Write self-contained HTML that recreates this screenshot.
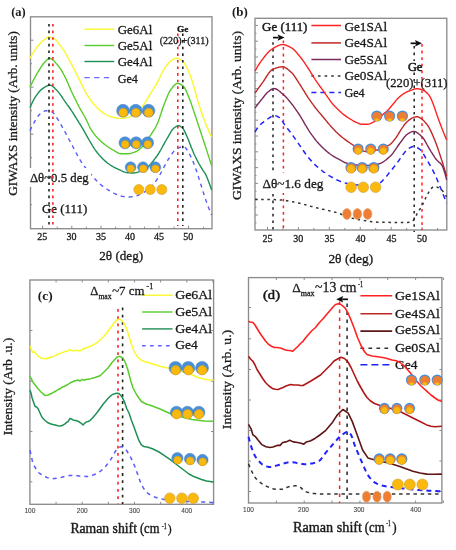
<!DOCTYPE html>
<html><head><meta charset="utf-8"><style>
html,body{margin:0;padding:0;background:#fff;}
svg{display:block;}
text{font-family:"Liberation Serif", serif;stroke:#1a1a1a;stroke-width:0.3px;}
</style></head><body>
<svg width="456" height="550" viewBox="0 0 456 550">
<defs><filter id="bl" x="0" y="0" width="100%" height="100%"><feGaussianBlur stdDeviation="0.35"/></filter></defs>
<rect width="456" height="550" fill="#fff"/>
<g filter="url(#bl)">
<rect width="456" height="550" fill="#fff"/>
<text x="11.2" y="16.3" font-size="13.5" text-anchor="start" textLength="14.5" lengthAdjust="spacingAndGlyphs" font-weight="bold" fill="#1a1a1a" style="stroke-width:0">(a)</text>
<rect x="30.5" y="16.8" width="181.5" height="211.89999999999998" fill="none" stroke="#8c8c8c" stroke-width="1.35"/>
<line x1="30.5" y1="40.2" x2="33.5" y2="40.2" stroke="#8c8c8c" stroke-width="1"/>
<line x1="30.5" y1="63.7" x2="32.0" y2="63.7" stroke="#8c8c8c" stroke-width="1"/>
<line x1="30.5" y1="87.2" x2="33.5" y2="87.2" stroke="#8c8c8c" stroke-width="1"/>
<line x1="30.5" y1="110.7" x2="32.0" y2="110.7" stroke="#8c8c8c" stroke-width="1"/>
<line x1="30.5" y1="134.2" x2="33.5" y2="134.2" stroke="#8c8c8c" stroke-width="1"/>
<line x1="30.5" y1="157.7" x2="32.0" y2="157.7" stroke="#8c8c8c" stroke-width="1"/>
<line x1="30.5" y1="181.2" x2="33.5" y2="181.2" stroke="#8c8c8c" stroke-width="1"/>
<line x1="30.5" y1="204.7" x2="32.0" y2="204.7" stroke="#8c8c8c" stroke-width="1"/>
<line x1="42.6" y1="228.7" x2="42.6" y2="225.7" stroke="#8c8c8c" stroke-width="1"/>
<line x1="57.2" y1="228.7" x2="57.2" y2="226.7" stroke="#8c8c8c" stroke-width="1"/>
<line x1="71.8" y1="228.7" x2="71.8" y2="225.7" stroke="#8c8c8c" stroke-width="1"/>
<line x1="86.4" y1="228.7" x2="86.4" y2="226.7" stroke="#8c8c8c" stroke-width="1"/>
<line x1="101" y1="228.7" x2="101" y2="225.7" stroke="#8c8c8c" stroke-width="1"/>
<line x1="115.6" y1="228.7" x2="115.6" y2="226.7" stroke="#8c8c8c" stroke-width="1"/>
<line x1="130" y1="228.7" x2="130" y2="225.7" stroke="#8c8c8c" stroke-width="1"/>
<line x1="144.5" y1="228.7" x2="144.5" y2="226.7" stroke="#8c8c8c" stroke-width="1"/>
<line x1="159" y1="228.7" x2="159" y2="225.7" stroke="#8c8c8c" stroke-width="1"/>
<line x1="174" y1="228.7" x2="174" y2="226.7" stroke="#8c8c8c" stroke-width="1"/>
<line x1="188.5" y1="228.7" x2="188.5" y2="225.7" stroke="#8c8c8c" stroke-width="1"/>
<line x1="203.5" y1="228.7" x2="203.5" y2="226.7" stroke="#8c8c8c" stroke-width="1"/>
<text x="42.3" y="239.6" font-size="10" text-anchor="middle" fill="#1a1a1a" >25</text>
<text x="71.5" y="239.6" font-size="10" text-anchor="middle" fill="#1a1a1a" >30</text>
<text x="101" y="239.6" font-size="10" text-anchor="middle" fill="#1a1a1a" >35</text>
<text x="129.9" y="239.6" font-size="10" text-anchor="middle" fill="#1a1a1a" >40</text>
<text x="158.9" y="239.6" font-size="10" text-anchor="middle" fill="#1a1a1a" >45</text>
<text x="188.3" y="239.6" font-size="10" text-anchor="middle" fill="#1a1a1a" >50</text>
<text x="121.2" y="260.4" font-size="13" text-anchor="middle" textLength="44" lengthAdjust="spacingAndGlyphs" fill="#1a1a1a" >2θ (deg)</text>
<text transform="translate(16.5,113.5) rotate(-90)" x="0" y="0" font-size="13" text-anchor="middle" textLength="164.7" lengthAdjust="spacingAndGlyphs" fill="#1a1a1a">GIWAXS intensity (Arb. units)</text>
<line x1="84.4" y1="29.2" x2="114.2" y2="29.2" stroke="#f8f82c" stroke-width="1.4"/>
<line x1="84.4" y1="45.5" x2="114.2" y2="45.5" stroke="#58cc2a" stroke-width="1.4"/>
<line x1="84.4" y1="61.5" x2="114.2" y2="61.5" stroke="#1f8f55" stroke-width="1.4"/>
<line x1="84.4" y1="77.6" x2="109.5" y2="77.6" stroke="#6a6aff" stroke-width="1.4" stroke-dasharray="5.3 4.4"/>
<text x="117.7" y="33.9" font-size="13.3" text-anchor="start" textLength="34.6" lengthAdjust="spacingAndGlyphs" fill="#1a1a1a" >Ge6Al</text>
<text x="117.7" y="50.1" font-size="13.3" text-anchor="start" textLength="34.6" lengthAdjust="spacingAndGlyphs" fill="#1a1a1a" >Ge5Al</text>
<text x="117.7" y="66.2" font-size="13.3" text-anchor="start" textLength="34.6" lengthAdjust="spacingAndGlyphs" fill="#1a1a1a" >Ge4Al</text>
<text x="117.7" y="82.5" font-size="13.3" text-anchor="start" textLength="20.2" lengthAdjust="spacingAndGlyphs" fill="#1a1a1a" >Ge4</text>
<path d="M30.0,58.2 L30.7,56.9 L31.4,55.7 L32.1,54.5 L32.8,53.4 L33.5,52.2 L34.2,51.2 L34.9,50.1 L35.6,49.1 L36.3,48.1 L37.0,47.2 L37.7,46.3 L38.4,45.5 L39.1,44.7 L39.8,43.9 L40.5,43.2 L41.2,42.4 L41.9,41.8 L42.6,41.1 L43.3,40.5 L44.0,40.0 L44.7,39.4 L45.4,38.9 L46.1,38.3 L46.8,37.8 L47.5,37.4 L48.2,37.1 L48.9,37.0 L49.6,37.0 L50.3,37.1 L51.0,37.3 L51.7,37.5 L52.4,37.8 L53.1,38.1 L53.8,38.4 L54.5,38.8 L55.2,39.1 L55.9,39.7 L56.6,40.5 L57.3,41.4 L58.0,42.5 L58.7,43.5 L59.4,44.5 L60.1,45.5 L60.9,46.4 L61.6,47.3 L62.3,48.3 L63.0,49.3 L63.7,50.3 L64.4,51.3 L65.1,52.5 L65.8,53.7 L66.5,55.0 L67.2,56.3 L67.9,57.6 L68.6,58.9 L69.3,60.1 L70.0,61.4 L70.7,62.7 L71.4,64.0 L72.1,65.3 L72.8,66.6 L73.5,68.0 L74.2,69.4 L74.9,70.7 L75.6,72.1 L76.3,73.5 L77.0,74.9 L77.7,76.3 L78.4,77.7 L79.1,79.1 L79.8,80.5 L80.5,81.9 L81.2,83.4 L81.9,84.9 L82.6,86.4 L83.3,87.8 L84.0,89.3 L84.7,90.6 L85.4,91.9 L86.1,93.2 L86.8,94.3 L87.5,95.5 L88.2,96.5 L88.9,97.6 L89.6,98.6 L90.3,99.6 L91.0,100.5 L91.7,101.5 L92.4,102.3 L93.1,103.2 L93.8,104.0 L94.5,104.8 L95.2,105.6 L95.9,106.4 L96.6,107.2 L97.3,107.9 L98.0,108.6 L98.7,109.3 L99.4,109.9 L100.1,110.5 L100.8,111.1 L101.5,111.6 L102.2,112.1 L102.9,112.6 L103.6,113.1 L104.3,113.6 L105.0,114.0 L105.7,114.5 L106.4,114.9 L107.1,115.2 L107.8,115.6 L108.5,115.9 L109.2,116.2 L109.9,116.4 L110.6,116.6 L111.3,116.8 L112.0,117.0 L112.7,117.2 L113.4,117.3 L114.1,117.5 L114.8,117.7 L115.5,117.8 L116.2,118.0 L116.9,118.1 L117.6,118.2 L118.3,118.3 L119.0,118.3 L119.7,118.4 L120.4,118.4 L121.2,118.4 L121.9,118.4 L122.6,118.3 L123.3,118.2 L124.0,118.2 L124.7,118.1 L125.4,117.9 L126.1,117.8 L126.8,117.6 L127.5,117.5 L128.2,117.3 L128.9,117.1 L129.6,116.9 L130.3,116.7 L131.0,116.4 L131.7,116.1 L132.4,115.7 L133.1,115.2 L133.8,114.7 L134.5,114.2 L135.2,113.7 L135.9,113.1 L136.6,112.5 L137.3,111.9 L138.0,111.2 L138.7,110.5 L139.4,109.8 L140.1,109.0 L140.8,108.2 L141.5,107.3 L142.2,106.4 L142.9,105.5 L143.6,104.6 L144.3,103.6 L145.0,102.6 L145.7,101.5 L146.4,100.3 L147.1,99.2 L147.8,98.0 L148.5,96.8 L149.2,95.6 L149.9,94.4 L150.6,93.3 L151.3,92.2 L152.0,91.1 L152.7,90.0 L153.4,88.9 L154.1,87.8 L154.8,86.7 L155.5,85.6 L156.2,84.4 L156.9,83.2 L157.6,82.0 L158.3,80.6 L159.0,79.2 L159.7,77.7 L160.4,76.2 L161.1,74.7 L161.8,73.2 L162.5,71.8 L163.2,70.5 L163.9,69.4 L164.6,68.3 L165.3,67.3 L166.0,66.3 L166.7,65.3 L167.4,64.4 L168.1,63.5 L168.8,62.7 L169.5,62.0 L170.2,61.4 L170.9,60.9 L171.6,60.4 L172.3,60.0 L173.0,59.5 L173.7,59.1 L174.4,58.8 L175.1,58.5 L175.8,58.3 L176.5,58.2 L177.2,58.2 L177.9,58.4 L178.6,58.6 L179.3,59.0 L180.0,59.4 L180.7,60.0 L181.5,60.5 L182.2,61.2 L182.9,61.9 L183.6,62.5 L184.3,63.3 L185.0,64.2 L185.7,65.3 L186.4,66.5 L187.1,68.0 L187.8,69.5 L188.5,71.2 L189.2,72.9 L189.9,74.7 L190.6,76.6 L191.3,78.4 L192.0,80.4 L192.7,82.6 L193.4,85.0 L194.1,87.5 L194.8,90.0 L195.5,92.6 L196.2,95.1 L196.9,97.6 L197.6,99.9 L198.3,102.3 L199.0,104.6 L199.7,106.9 L200.4,109.1 L201.1,111.2 L201.8,113.3 L202.5,115.3 L203.2,117.2 L203.9,119.1 L204.6,121.0 L205.3,122.7 L206.0,124.5 L206.7,126.2 L207.4,127.8 L208.1,129.5 L208.8,131.1 L209.5,132.6 L210.2,134.1 L210.9,135.6 L211.6,137.0" fill="none" stroke="#f8f82c" stroke-width="1.4" stroke-linejoin="round" stroke-linecap="butt"/>
<path d="M30.0,87.0 L30.7,85.5 L31.4,84.1 L32.1,82.7 L32.8,81.3 L33.5,80.0 L34.2,78.7 L34.9,77.4 L35.6,76.1 L36.3,74.9 L37.0,73.7 L37.7,72.5 L38.4,71.3 L39.1,70.1 L39.8,69.0 L40.5,67.8 L41.2,66.7 L41.9,65.6 L42.6,64.7 L43.3,63.8 L44.0,63.0 L44.7,62.2 L45.4,61.4 L46.1,60.7 L46.8,60.0 L47.5,59.4 L48.2,58.9 L48.9,58.5 L49.6,58.4 L50.3,58.5 L51.0,58.7 L51.7,59.1 L52.4,59.6 L53.1,60.1 L53.8,60.8 L54.5,61.5 L55.2,62.3 L55.9,63.1 L56.6,63.9 L57.3,64.6 L58.0,65.5 L58.7,66.4 L59.4,67.4 L60.1,68.4 L60.9,69.5 L61.6,70.7 L62.3,71.9 L63.0,73.2 L63.7,74.5 L64.4,75.7 L65.1,77.1 L65.8,78.5 L66.5,80.0 L67.2,81.6 L67.9,83.2 L68.6,84.8 L69.3,86.5 L70.0,88.1 L70.7,89.7 L71.4,91.3 L72.1,92.8 L72.8,94.2 L73.5,95.7 L74.2,97.1 L74.9,98.5 L75.6,99.9 L76.3,101.3 L77.0,102.7 L77.7,104.1 L78.4,105.4 L79.1,106.8 L79.8,108.1 L80.5,109.3 L81.2,110.6 L81.9,111.8 L82.6,113.0 L83.3,114.2 L84.0,115.5 L84.7,116.7 L85.4,118.0 L86.1,119.3 L86.8,120.7 L87.5,122.2 L88.2,123.7 L88.9,125.3 L89.6,126.8 L90.3,128.1 L91.0,129.3 L91.7,130.4 L92.4,131.5 L93.1,132.5 L93.8,133.4 L94.5,134.4 L95.2,135.2 L95.9,136.1 L96.6,136.9 L97.3,137.7 L98.0,138.4 L98.7,139.1 L99.4,139.8 L100.1,140.5 L100.8,141.2 L101.5,141.8 L102.2,142.4 L102.9,143.0 L103.6,143.6 L104.3,144.1 L105.0,144.7 L105.7,145.2 L106.4,145.7 L107.1,146.2 L107.8,146.7 L108.5,147.2 L109.2,147.7 L109.9,148.2 L110.6,148.6 L111.3,149.0 L112.0,149.5 L112.7,149.9 L113.4,150.2 L114.1,150.6 L114.8,151.1 L115.5,151.5 L116.2,151.9 L116.9,152.3 L117.6,152.7 L118.3,153.0 L119.0,153.3 L119.7,153.6 L120.4,153.7 L121.2,153.8 L121.9,153.8 L122.6,153.8 L123.3,153.8 L124.0,153.8 L124.7,153.8 L125.4,153.8 L126.1,153.8 L126.8,153.7 L127.5,153.7 L128.2,153.7 L128.9,153.7 L129.6,153.6 L130.3,153.5 L131.0,153.3 L131.7,153.1 L132.4,152.9 L133.1,152.7 L133.8,152.5 L134.5,152.2 L135.2,151.9 L135.9,151.6 L136.6,151.3 L137.3,150.8 L138.0,150.4 L138.7,149.9 L139.4,149.3 L140.1,148.7 L140.8,148.1 L141.5,147.5 L142.2,146.8 L142.9,146.1 L143.6,145.3 L144.3,144.4 L145.0,143.5 L145.7,142.5 L146.4,141.5 L147.1,140.5 L147.8,139.4 L148.5,138.3 L149.2,137.2 L149.9,136.2 L150.6,135.1 L151.3,134.1 L152.0,133.0 L152.7,131.9 L153.4,130.8 L154.1,129.7 L154.8,128.5 L155.5,127.3 L156.2,126.0 L156.9,124.6 L157.6,123.1 L158.3,121.4 L159.0,119.5 L159.7,117.4 L160.4,115.3 L161.1,113.1 L161.8,111.0 L162.5,108.8 L163.2,106.8 L163.9,104.9 L164.6,103.2 L165.3,101.4 L166.0,99.6 L166.7,97.9 L167.4,96.2 L168.1,94.5 L168.8,93.0 L169.5,91.6 L170.2,90.5 L170.9,89.5 L171.6,88.6 L172.3,87.7 L173.0,86.8 L173.7,86.0 L174.4,85.2 L175.1,84.6 L175.8,84.0 L176.5,83.7 L177.2,83.4 L177.9,83.4 L178.6,83.5 L179.3,83.7 L180.0,84.0 L180.7,84.4 L181.5,84.9 L182.2,85.4 L182.9,85.9 L183.6,86.5 L184.3,87.4 L185.0,88.5 L185.7,89.9 L186.4,91.4 L187.1,93.0 L187.8,94.7 L188.5,96.4 L189.2,98.2 L189.9,99.9 L190.6,101.7 L191.3,103.8 L192.0,105.9 L192.7,108.0 L193.4,110.1 L194.1,112.2 L194.8,114.2 L195.5,116.3 L196.2,118.4 L196.9,120.5 L197.6,122.7 L198.3,124.8 L199.0,126.9 L199.7,129.0 L200.4,131.2 L201.1,133.3 L201.8,135.4 L202.5,137.6 L203.2,139.7 L203.9,141.8 L204.6,144.0 L205.3,146.1 L206.0,148.3 L206.7,150.4 L207.4,152.6 L208.1,154.7 L208.8,156.9 L209.5,159.1 L210.2,161.2 L210.9,163.4 L211.6,165.6" fill="none" stroke="#58cc2a" stroke-width="1.4" stroke-linejoin="round" stroke-linecap="butt"/>
<path d="M30.0,107.6 L30.7,106.0 L31.4,104.5 L32.1,103.0 L32.8,101.5 L33.5,100.2 L34.2,98.9 L34.9,97.7 L35.6,96.6 L36.3,95.6 L37.0,94.6 L37.7,93.6 L38.4,92.7 L39.1,91.8 L39.8,91.0 L40.5,90.2 L41.2,89.6 L41.9,89.1 L42.6,88.6 L43.3,88.1 L44.0,87.6 L44.7,87.2 L45.4,86.7 L46.1,86.3 L46.8,86.0 L47.5,85.7 L48.2,85.5 L48.9,85.3 L49.6,85.2 L50.3,85.2 L51.0,85.4 L51.7,85.7 L52.4,86.1 L53.1,86.7 L53.8,87.3 L54.5,87.9 L55.2,88.7 L55.9,89.4 L56.6,90.1 L57.3,90.8 L58.0,91.6 L58.7,92.4 L59.4,93.4 L60.1,94.3 L60.9,95.4 L61.6,96.4 L62.3,97.5 L63.0,98.6 L63.7,99.6 L64.4,100.7 L65.1,101.6 L65.8,102.6 L66.5,103.6 L67.2,104.6 L67.9,105.5 L68.6,106.5 L69.3,107.5 L70.0,108.5 L70.7,109.5 L71.4,110.6 L72.1,111.6 L72.8,112.7 L73.5,113.8 L74.2,114.9 L74.9,116.0 L75.6,117.1 L76.3,118.2 L77.0,119.4 L77.7,120.5 L78.4,121.6 L79.1,122.8 L79.8,123.9 L80.5,125.0 L81.2,126.2 L81.9,127.3 L82.6,128.5 L83.3,129.6 L84.0,130.8 L84.7,132.1 L85.4,133.3 L86.1,134.6 L86.8,135.9 L87.5,137.1 L88.2,138.3 L88.9,139.5 L89.6,140.8 L90.3,142.0 L91.0,143.2 L91.7,144.4 L92.4,145.6 L93.1,146.7 L93.8,147.8 L94.5,148.9 L95.2,149.9 L95.9,150.8 L96.6,151.8 L97.3,152.7 L98.0,153.5 L98.7,154.4 L99.4,155.2 L100.1,156.0 L100.8,156.8 L101.5,157.5 L102.2,158.2 L102.9,158.9 L103.6,159.6 L104.3,160.2 L105.0,160.9 L105.7,161.5 L106.4,162.1 L107.1,162.7 L107.8,163.3 L108.5,163.8 L109.2,164.3 L109.9,164.8 L110.6,165.3 L111.3,165.7 L112.0,166.1 L112.7,166.5 L113.4,166.9 L114.1,167.3 L114.8,167.6 L115.5,168.0 L116.2,168.3 L116.9,168.6 L117.6,168.9 L118.3,169.3 L119.0,169.6 L119.7,169.9 L120.4,170.2 L121.2,170.6 L121.9,170.9 L122.6,171.3 L123.3,171.6 L124.0,171.9 L124.7,172.2 L125.4,172.4 L126.1,172.5 L126.8,172.6 L127.5,172.7 L128.2,172.7 L128.9,172.8 L129.6,172.9 L130.3,172.9 L131.0,173.0 L131.7,173.0 L132.4,173.0 L133.1,173.0 L133.8,173.0 L134.5,172.9 L135.2,172.8 L135.9,172.6 L136.6,172.5 L137.3,172.3 L138.0,172.1 L138.7,171.8 L139.4,171.6 L140.1,171.3 L140.8,171.1 L141.5,170.8 L142.2,170.5 L142.9,170.2 L143.6,169.8 L144.3,169.4 L145.0,169.0 L145.7,168.5 L146.4,168.0 L147.1,167.5 L147.8,166.9 L148.5,166.4 L149.2,165.7 L149.9,165.0 L150.6,164.2 L151.3,163.3 L152.0,162.5 L152.7,161.6 L153.4,160.7 L154.1,159.8 L154.8,158.9 L155.5,158.0 L156.2,157.0 L156.9,156.1 L157.6,155.0 L158.3,154.0 L159.0,152.9 L159.7,151.7 L160.4,150.5 L161.1,149.3 L161.8,148.0 L162.5,146.7 L163.2,145.4 L163.9,144.2 L164.6,142.9 L165.3,141.7 L166.0,140.5 L166.7,139.2 L167.4,138.0 L168.1,136.8 L168.8,135.6 L169.5,134.4 L170.2,133.2 L170.9,131.9 L171.6,130.8 L172.3,129.7 L173.0,129.0 L173.7,128.3 L174.4,127.7 L175.1,127.2 L175.8,126.7 L176.5,126.3 L177.2,125.9 L177.9,125.7 L178.6,125.7 L179.3,125.8 L180.0,126.1 L180.7,126.6 L181.5,127.1 L182.2,127.7 L182.9,128.4 L183.6,129.4 L184.3,130.6 L185.0,132.1 L185.7,133.6 L186.4,135.1 L187.1,136.7 L187.8,138.4 L188.5,140.1 L189.2,142.0 L189.9,143.8 L190.6,145.6 L191.3,147.4 L192.0,149.1 L192.7,150.7 L193.4,152.4 L194.1,154.0 L194.8,155.5 L195.5,157.0 L196.2,158.4 L196.9,159.9 L197.6,161.2 L198.3,162.5 L199.0,163.8 L199.7,165.0 L200.4,166.2 L201.1,167.4 L201.8,168.5 L202.5,169.7 L203.2,170.7 L203.9,171.7 L204.6,172.7 L205.3,173.8 L206.0,175.1 L206.7,176.7 L207.4,178.4 L208.1,180.2 L208.8,182.1 L209.5,184.0 L210.2,185.9 L210.9,187.9 L211.6,190.0" fill="none" stroke="#1f8f55" stroke-width="1.4" stroke-linejoin="round" stroke-linecap="butt"/>
<path d="M30.0,130.7 L30.7,129.2 L31.4,127.7 L32.1,126.3 L32.8,124.9 L33.5,123.6 L34.2,122.3 L34.9,121.2 L35.6,120.0 L36.3,118.8 L37.0,117.7 L37.7,116.7 L38.4,115.7 L39.1,114.8 L39.8,114.2 L40.5,113.6 L41.2,113.1 L41.9,112.5 L42.6,112.1 L43.3,111.6 L44.0,111.3 L44.7,111.0 L45.4,110.8 L46.1,110.8 L46.8,110.8 L47.5,110.8 L48.2,110.9 L48.9,110.9 L49.6,111.0 L50.3,111.1 L51.0,111.3 L51.7,111.7 L52.4,112.2 L53.1,112.7 L53.8,113.4 L54.5,114.3 L55.2,115.3 L55.9,116.4 L56.6,117.5 L57.3,118.5 L58.0,119.6 L58.7,120.8 L59.4,122.0 L60.1,123.3 L60.9,124.5 L61.6,125.8 L62.3,127.1 L63.0,128.3 L63.7,129.6 L64.4,130.9 L65.1,132.2 L65.8,133.4 L66.5,134.7 L67.2,136.1 L67.9,137.4 L68.6,138.7 L69.3,140.0 L70.0,141.3 L70.7,142.6 L71.4,143.9 L72.1,145.2 L72.8,146.5 L73.5,147.8 L74.2,149.1 L74.9,150.5 L75.6,151.8 L76.3,153.2 L77.0,154.5 L77.7,155.8 L78.4,157.1 L79.1,158.3 L79.8,159.5 L80.5,160.7 L81.2,161.8 L81.9,162.9 L82.6,163.9 L83.3,164.9 L84.0,165.9 L84.7,166.8 L85.4,167.7 L86.1,168.6 L86.8,169.5 L87.5,170.4 L88.2,171.2 L88.9,172.1 L89.6,172.9 L90.3,173.7 L91.0,174.5 L91.7,175.3 L92.4,176.1 L93.1,176.9 L93.8,177.7 L94.5,178.5 L95.2,179.2 L95.9,180.0 L96.6,180.7 L97.3,181.4 L98.0,182.1 L98.7,182.8 L99.4,183.5 L100.1,184.1 L100.8,184.7 L101.5,185.3 L102.2,185.9 L102.9,186.4 L103.6,186.9 L104.3,187.4 L105.0,187.9 L105.7,188.4 L106.4,188.8 L107.1,189.3 L107.8,189.7 L108.5,190.1 L109.2,190.6 L109.9,191.0 L110.6,191.4 L111.3,191.8 L112.0,192.2 L112.7,192.5 L113.4,192.9 L114.1,193.3 L114.8,193.6 L115.5,194.0 L116.2,194.3 L116.9,194.6 L117.6,194.9 L118.3,195.1 L119.0,195.4 L119.7,195.7 L120.4,195.9 L121.2,196.1 L121.9,196.3 L122.6,196.4 L123.3,196.5 L124.0,196.6 L124.7,196.7 L125.4,196.8 L126.1,196.9 L126.8,196.9 L127.5,197.0 L128.2,197.0 L128.9,197.0 L129.6,197.0 L130.3,196.9 L131.0,196.9 L131.7,196.8 L132.4,196.7 L133.1,196.5 L133.8,196.4 L134.5,196.3 L135.2,196.2 L135.9,196.0 L136.6,195.8 L137.3,195.6 L138.0,195.3 L138.7,195.0 L139.4,194.7 L140.1,194.4 L140.8,194.0 L141.5,193.7 L142.2,193.3 L142.9,192.9 L143.6,192.5 L144.3,192.1 L145.0,191.6 L145.7,191.2 L146.4,190.7 L147.1,190.1 L147.8,189.6 L148.5,189.0 L149.2,188.4 L149.9,187.8 L150.6,187.1 L151.3,186.5 L152.0,185.8 L152.7,185.0 L153.4,184.3 L154.1,183.5 L154.8,182.6 L155.5,181.7 L156.2,180.6 L156.9,179.6 L157.6,178.5 L158.3,177.3 L159.0,176.2 L159.7,175.0 L160.4,173.8 L161.1,172.5 L161.8,171.2 L162.5,169.8 L163.2,168.5 L163.9,167.2 L164.6,165.9 L165.3,164.6 L166.0,163.4 L166.7,162.1 L167.4,160.9 L168.1,159.7 L168.8,158.6 L169.5,157.5 L170.2,156.4 L170.9,155.3 L171.6,154.3 L172.3,153.3 L173.0,152.4 L173.7,151.6 L174.4,150.9 L175.1,150.3 L175.8,149.7 L176.5,149.3 L177.2,148.8 L177.9,148.4 L178.6,148.1 L179.3,147.7 L180.0,147.3 L180.7,147.0 L181.5,146.7 L182.2,146.6 L182.9,146.6 L183.6,146.8 L184.3,147.1 L185.0,147.5 L185.7,148.0 L186.4,148.9 L187.1,150.0 L187.8,151.2 L188.5,152.5 L189.2,153.7 L189.9,154.9 L190.6,156.3 L191.3,157.7 L192.0,159.2 L192.7,160.8 L193.4,162.4 L194.1,164.2 L194.8,166.1 L195.5,168.1 L196.2,170.1 L196.9,172.1 L197.6,174.2 L198.3,176.4 L199.0,178.6 L199.7,180.9 L200.4,183.1 L201.1,185.3 L201.8,187.5 L202.5,189.7 L203.2,192.0 L203.9,194.2 L204.6,196.4 L205.3,198.5 L206.0,200.6 L206.7,202.6 L207.4,204.6 L208.1,206.4 L208.8,208.3 L209.5,210.0 L210.2,211.7 L210.9,213.4 L211.6,215.0" fill="none" stroke="#5a5aff" stroke-width="1.4" stroke-dasharray="4 4" stroke-linejoin="round" stroke-linecap="butt"/>
<circle cx="123" cy="110.7" r="6.4" fill="#4a8fd8" stroke="#3f7fc6" stroke-width="0.5"/>
<circle cx="135.7" cy="110.7" r="6.4" fill="#4a8fd8" stroke="#3f7fc6" stroke-width="0.5"/>
<circle cx="148.5" cy="110.7" r="6.4" fill="#4a8fd8" stroke="#3f7fc6" stroke-width="0.5"/>
<circle cx="123.2" cy="112.7" r="4.4" fill="#fbb90d" stroke="#e0a000" stroke-width="0.6"/>
<circle cx="135.89999999999998" cy="112.7" r="4.4" fill="#fbb90d" stroke="#e0a000" stroke-width="0.6"/>
<circle cx="148.7" cy="112.7" r="4.4" fill="#fbb90d" stroke="#e0a000" stroke-width="0.6"/>
<circle cx="125" cy="142.8" r="6.0" fill="#4a8fd8" stroke="#3f7fc6" stroke-width="0.5"/>
<circle cx="136.1" cy="142.8" r="6.0" fill="#4a8fd8" stroke="#3f7fc6" stroke-width="0.5"/>
<circle cx="147.6" cy="142.8" r="6.0" fill="#4a8fd8" stroke="#3f7fc6" stroke-width="0.5"/>
<circle cx="125.2" cy="144.4" r="3.8" fill="#fbb90d" stroke="#e0a000" stroke-width="0.6"/>
<circle cx="136.29999999999998" cy="144.4" r="3.8" fill="#fbb90d" stroke="#e0a000" stroke-width="0.6"/>
<circle cx="147.79999999999998" cy="144.4" r="3.8" fill="#fbb90d" stroke="#e0a000" stroke-width="0.6"/>
<circle cx="130.6" cy="167.2" r="5.4" fill="#4a8fd8" stroke="#3f7fc6" stroke-width="0.5"/>
<circle cx="143" cy="167.2" r="5.4" fill="#4a8fd8" stroke="#3f7fc6" stroke-width="0.5"/>
<circle cx="155.3" cy="167.2" r="5.4" fill="#4a8fd8" stroke="#3f7fc6" stroke-width="0.5"/>
<circle cx="130.79999999999998" cy="168.7" r="3.8" fill="#fbb90d" stroke="#e0a000" stroke-width="0.6"/>
<circle cx="143.2" cy="168.7" r="3.8" fill="#fbb90d" stroke="#e0a000" stroke-width="0.6"/>
<circle cx="155.5" cy="168.7" r="3.8" fill="#fbb90d" stroke="#e0a000" stroke-width="0.6"/>
<circle cx="138.8" cy="189.6" r="5.0" fill="#fbb90d" stroke="#c9a040" stroke-width="0.6"/>
<circle cx="150.3" cy="189.6" r="5.0" fill="#fbb90d" stroke="#c9a040" stroke-width="0.6"/>
<circle cx="161.8" cy="189.6" r="5.0" fill="#fbb90d" stroke="#c9a040" stroke-width="0.6"/>
<rect x="28" y="168" width="63" height="19" fill="#fff"/>
<text x="29.9" y="182.3" font-size="13" text-anchor="start" textLength="58.8" lengthAdjust="spacingAndGlyphs" fill="#1a1a1a" >Δθ~0.5 deg</text>
<text x="41.9" y="212.6" font-size="13" text-anchor="start" textLength="45.3" lengthAdjust="spacingAndGlyphs" fill="#1a1a1a" >Ge (111)</text>
<line x1="49" y1="24" x2="49" y2="226" stroke="#222" stroke-width="1.6" stroke-dasharray="2.6 4"/>
<line x1="52.9" y1="24" x2="52.9" y2="226" stroke="#ff2222" stroke-width="1.6" stroke-dasharray="2.6 4"/>
<line x1="177.8" y1="33.5" x2="177.8" y2="226" stroke="#ff2222" stroke-width="1.6" stroke-dasharray="2.6 4"/>
<line x1="182.8" y1="33.5" x2="182.8" y2="226" stroke="#222" stroke-width="1.6" stroke-dasharray="2.6 4"/>
<text x="177.1" y="31.6" font-size="8.6" text-anchor="start" textLength="11.4" lengthAdjust="spacingAndGlyphs" font-weight="bold" fill="#1a1a1a" >Ge</text>
<text x="159.7" y="43.9" font-size="10.5" text-anchor="start" textLength="49" lengthAdjust="spacingAndGlyphs" fill="#1a1a1a" >(220)+(311)</text>
<text x="231.9" y="16.3" font-size="13.5" text-anchor="start" textLength="15.8" lengthAdjust="spacingAndGlyphs" font-weight="bold" fill="#1a1a1a" style="stroke-width:0">(b)</text>
<rect x="255" y="18.3" width="191.8" height="211.7" fill="none" stroke="#8c8c8c" stroke-width="1.35"/>
<line x1="255" y1="25.4" x2="258" y2="25.4" stroke="#8c8c8c" stroke-width="1"/>
<line x1="255" y1="33.3" x2="256.5" y2="33.3" stroke="#8c8c8c" stroke-width="1"/>
<line x1="255" y1="41.2" x2="258" y2="41.2" stroke="#8c8c8c" stroke-width="1"/>
<line x1="255" y1="49.1" x2="256.5" y2="49.1" stroke="#8c8c8c" stroke-width="1"/>
<line x1="255" y1="57.0" x2="258" y2="57.0" stroke="#8c8c8c" stroke-width="1"/>
<line x1="255" y1="64.9" x2="256.5" y2="64.9" stroke="#8c8c8c" stroke-width="1"/>
<line x1="255" y1="72.80000000000001" x2="258" y2="72.80000000000001" stroke="#8c8c8c" stroke-width="1"/>
<line x1="255" y1="80.7" x2="256.5" y2="80.7" stroke="#8c8c8c" stroke-width="1"/>
<line x1="255" y1="88.6" x2="258" y2="88.6" stroke="#8c8c8c" stroke-width="1"/>
<line x1="255" y1="96.5" x2="256.5" y2="96.5" stroke="#8c8c8c" stroke-width="1"/>
<line x1="255" y1="104.4" x2="258" y2="104.4" stroke="#8c8c8c" stroke-width="1"/>
<line x1="255" y1="112.30000000000001" x2="256.5" y2="112.30000000000001" stroke="#8c8c8c" stroke-width="1"/>
<line x1="255" y1="120.20000000000002" x2="258" y2="120.20000000000002" stroke="#8c8c8c" stroke-width="1"/>
<line x1="255" y1="128.1" x2="256.5" y2="128.1" stroke="#8c8c8c" stroke-width="1"/>
<line x1="255" y1="136.0" x2="258" y2="136.0" stroke="#8c8c8c" stroke-width="1"/>
<line x1="255" y1="143.9" x2="256.5" y2="143.9" stroke="#8c8c8c" stroke-width="1"/>
<line x1="255" y1="151.8" x2="258" y2="151.8" stroke="#8c8c8c" stroke-width="1"/>
<line x1="255" y1="159.70000000000002" x2="256.5" y2="159.70000000000002" stroke="#8c8c8c" stroke-width="1"/>
<line x1="255" y1="167.60000000000002" x2="258" y2="167.60000000000002" stroke="#8c8c8c" stroke-width="1"/>
<line x1="255" y1="175.5" x2="256.5" y2="175.5" stroke="#8c8c8c" stroke-width="1"/>
<line x1="255" y1="183.4" x2="258" y2="183.4" stroke="#8c8c8c" stroke-width="1"/>
<line x1="255" y1="191.3" x2="256.5" y2="191.3" stroke="#8c8c8c" stroke-width="1"/>
<line x1="255" y1="199.20000000000002" x2="258" y2="199.20000000000002" stroke="#8c8c8c" stroke-width="1"/>
<line x1="255" y1="207.10000000000002" x2="256.5" y2="207.10000000000002" stroke="#8c8c8c" stroke-width="1"/>
<line x1="255" y1="215.00000000000003" x2="258" y2="215.00000000000003" stroke="#8c8c8c" stroke-width="1"/>
<line x1="255" y1="222.9" x2="256.5" y2="222.9" stroke="#8c8c8c" stroke-width="1"/>
<line x1="267.5" y1="230" x2="267.5" y2="227" stroke="#8c8c8c" stroke-width="1"/>
<line x1="282.96" y1="230" x2="282.96" y2="228" stroke="#8c8c8c" stroke-width="1"/>
<line x1="298.42" y1="230" x2="298.42" y2="227" stroke="#8c8c8c" stroke-width="1"/>
<line x1="313.88" y1="230" x2="313.88" y2="228" stroke="#8c8c8c" stroke-width="1"/>
<line x1="329.34000000000003" y1="230" x2="329.34000000000003" y2="227" stroke="#8c8c8c" stroke-width="1"/>
<line x1="344.8" y1="230" x2="344.8" y2="228" stroke="#8c8c8c" stroke-width="1"/>
<line x1="360.26" y1="230" x2="360.26" y2="227" stroke="#8c8c8c" stroke-width="1"/>
<line x1="375.72" y1="230" x2="375.72" y2="228" stroke="#8c8c8c" stroke-width="1"/>
<line x1="391.18" y1="230" x2="391.18" y2="227" stroke="#8c8c8c" stroke-width="1"/>
<line x1="406.64" y1="230" x2="406.64" y2="228" stroke="#8c8c8c" stroke-width="1"/>
<line x1="422.1" y1="230" x2="422.1" y2="227" stroke="#8c8c8c" stroke-width="1"/>
<line x1="437.56" y1="230" x2="437.56" y2="228" stroke="#8c8c8c" stroke-width="1"/>
<text x="267.5" y="241.9" font-size="10" text-anchor="middle" fill="#1a1a1a" >25</text>
<text x="298.2" y="241.9" font-size="10" text-anchor="middle" fill="#1a1a1a" >30</text>
<text x="329.4" y="241.9" font-size="10" text-anchor="middle" fill="#1a1a1a" >35</text>
<text x="360.5" y="241.9" font-size="10" text-anchor="middle" fill="#1a1a1a" >40</text>
<text x="391.4" y="241.9" font-size="10" text-anchor="middle" fill="#1a1a1a" >45</text>
<text x="422.1" y="241.9" font-size="10" text-anchor="middle" fill="#1a1a1a" >50</text>
<text x="350.8" y="262.8" font-size="13.4" text-anchor="middle" textLength="44.8" lengthAdjust="spacingAndGlyphs" fill="#1a1a1a" >2θ (deg)</text>
<text transform="translate(241,115.6) rotate(-90)" x="0" y="0" font-size="13.3" text-anchor="middle" textLength="169" lengthAdjust="spacingAndGlyphs" fill="#1a1a1a">GIWAXS intensity (Arb. units)</text>
<line x1="311.4" y1="25.5" x2="341" y2="25.5" stroke="#ff2222" stroke-width="1.5"/>
<line x1="311.4" y1="42.9" x2="341" y2="42.9" stroke="#c02828" stroke-width="1.5"/>
<line x1="311.4" y1="59.5" x2="341" y2="59.5" stroke="#7a2a5a" stroke-width="1.5"/>
<line x1="311.4" y1="76" x2="341" y2="76" stroke="#333" stroke-width="1.5" stroke-dasharray="2.6 4"/>
<line x1="311.4" y1="92.4" x2="341" y2="92.4" stroke="#2020ff" stroke-width="1.5" stroke-dasharray="5 4"/>
<text x="344.4" y="30.8" font-size="13.4" text-anchor="start" textLength="42.7" lengthAdjust="spacingAndGlyphs" fill="#1a1a1a" >Ge1SAl</text>
<text x="344.4" y="47.2" font-size="13.4" text-anchor="start" textLength="42.7" lengthAdjust="spacingAndGlyphs" fill="#1a1a1a" >Ge4SAl</text>
<text x="344.4" y="63.6" font-size="13.4" text-anchor="start" textLength="42.7" lengthAdjust="spacingAndGlyphs" fill="#1a1a1a" >Ge5SAl</text>
<text x="344.4" y="80.1" font-size="13.4" text-anchor="start" textLength="42.7" lengthAdjust="spacingAndGlyphs" fill="#1a1a1a" >Ge0SAl</text>
<text x="344.4" y="96.5" font-size="13.4" text-anchor="start" textLength="20.3" lengthAdjust="spacingAndGlyphs" fill="#1a1a1a" >Ge4</text>
<line x1="273" y1="42.2" x2="273" y2="232" stroke="#222" stroke-width="1.5" stroke-dasharray="2.6 4"/>
<line x1="283.4" y1="40.4" x2="283.4" y2="230" stroke="#ff2222" stroke-width="1.5" stroke-dasharray="2.8 3.8"/>
<line x1="414.2" y1="46" x2="414.2" y2="232" stroke="#222" stroke-width="1.5" stroke-dasharray="2.6 4"/>
<line x1="422" y1="44" x2="422" y2="230" stroke="#ff2222" stroke-width="1.5" stroke-dasharray="2.8 3.8"/>
<line x1="273" y1="37.6" x2="278.6" y2="37.6" stroke="#111" stroke-width="1.7"/>
<path d="M284.6,37.6 L277.6,34.4 L278.8,37.6 L277.6,40.800000000000004 Z" fill="#111"/>
<line x1="410.6" y1="43.3" x2="416" y2="43.3" stroke="#111" stroke-width="1.7"/>
<path d="M422,43.3 L415,40.099999999999994 L416.2,43.3 L415,46.5 Z" fill="#111"/>
<path d="M255.0,71.0 L255.7,69.8 L256.4,68.6 L257.1,67.4 L257.8,66.2 L258.5,65.1 L259.2,64.0 L259.9,62.9 L260.6,61.9 L261.3,60.9 L262.0,60.0 L262.7,59.1 L263.4,58.1 L264.1,57.2 L264.8,56.3 L265.5,55.5 L266.2,54.6 L266.9,53.8 L267.6,53.0 L268.3,52.2 L269.0,51.5 L269.7,50.8 L270.4,50.2 L271.1,49.7 L271.8,49.2 L272.5,48.8 L273.2,48.3 L273.9,47.9 L274.7,47.5 L275.4,47.0 L276.1,46.6 L276.8,46.3 L277.5,45.9 L278.2,45.6 L278.9,45.3 L279.6,45.1 L280.3,44.9 L281.0,44.7 L281.7,44.6 L282.4,44.6 L283.1,44.6 L283.8,44.7 L284.5,44.8 L285.2,45.0 L285.9,45.2 L286.6,45.5 L287.3,45.8 L288.0,46.1 L288.7,46.4 L289.4,46.7 L290.1,47.1 L290.8,47.5 L291.5,47.9 L292.2,48.3 L292.9,48.8 L293.6,49.4 L294.3,50.1 L295.0,50.8 L295.7,51.5 L296.4,52.3 L297.1,53.1 L297.8,54.0 L298.5,54.8 L299.2,55.7 L299.9,56.5 L300.6,57.4 L301.3,58.3 L302.0,59.2 L302.7,60.2 L303.4,61.2 L304.1,62.2 L304.8,63.2 L305.5,64.3 L306.2,65.3 L306.9,66.4 L307.6,67.4 L308.3,68.5 L309.0,69.6 L309.7,70.7 L310.4,71.8 L311.1,73.0 L311.8,74.1 L312.6,75.3 L313.3,76.4 L314.0,77.6 L314.7,78.7 L315.4,79.8 L316.1,80.8 L316.8,81.9 L317.5,82.9 L318.2,83.9 L318.9,84.8 L319.6,85.8 L320.3,86.8 L321.0,87.7 L321.7,88.7 L322.4,89.6 L323.1,90.6 L323.8,91.6 L324.5,92.5 L325.2,93.5 L325.9,94.6 L326.6,95.6 L327.3,96.6 L328.0,97.7 L328.7,98.7 L329.4,99.7 L330.1,100.7 L330.8,101.6 L331.5,102.5 L332.2,103.4 L332.9,104.2 L333.6,105.0 L334.3,105.7 L335.0,106.5 L335.7,107.2 L336.4,107.9 L337.1,108.6 L337.8,109.2 L338.5,109.9 L339.2,110.6 L339.9,111.2 L340.6,111.9 L341.3,112.5 L342.0,113.2 L342.7,113.8 L343.4,114.4 L344.1,114.9 L344.8,115.4 L345.5,115.9 L346.2,116.4 L346.9,116.9 L347.6,117.3 L348.3,117.8 L349.0,118.2 L349.7,118.7 L350.4,119.1 L351.2,119.5 L351.9,120.0 L352.6,120.4 L353.3,120.9 L354.0,121.3 L354.7,121.7 L355.4,122.0 L356.1,122.3 L356.8,122.6 L357.5,122.9 L358.2,123.2 L358.9,123.5 L359.6,123.8 L360.3,124.0 L361.0,124.1 L361.7,124.3 L362.4,124.3 L363.1,124.3 L363.8,124.3 L364.5,124.3 L365.2,124.3 L365.9,124.3 L366.6,124.2 L367.3,124.2 L368.0,124.2 L368.7,124.1 L369.4,123.9 L370.1,123.7 L370.8,123.4 L371.5,123.0 L372.2,122.7 L372.9,122.3 L373.6,121.9 L374.3,121.6 L375.0,121.1 L375.7,120.7 L376.4,120.2 L377.1,119.7 L377.8,119.2 L378.5,118.7 L379.2,118.1 L379.9,117.5 L380.6,116.8 L381.3,116.1 L382.0,115.4 L382.7,114.7 L383.4,114.1 L384.1,113.5 L384.8,112.9 L385.5,112.4 L386.2,111.8 L386.9,111.1 L387.6,110.5 L388.3,109.7 L389.0,108.9 L389.8,108.1 L390.5,107.2 L391.2,106.3 L391.9,105.5 L392.6,104.6 L393.3,103.8 L394.0,103.0 L394.7,102.1 L395.4,101.2 L396.1,100.4 L396.8,99.6 L397.5,98.8 L398.2,98.1 L398.9,97.5 L399.6,96.8 L400.3,96.2 L401.0,95.6 L401.7,95.1 L402.4,94.5 L403.1,94.1 L403.8,93.6 L404.5,93.2 L405.2,92.8 L405.9,92.4 L406.6,92.0 L407.3,91.7 L408.0,91.4 L408.7,91.1 L409.4,90.8 L410.1,90.5 L410.8,90.3 L411.5,90.1 L412.2,89.8 L412.9,89.6 L413.6,89.4 L414.3,89.2 L415.0,89.0 L415.7,88.9 L416.4,88.8 L417.1,88.8 L417.8,88.8 L418.5,88.9 L419.2,89.0 L419.9,89.1 L420.6,89.2 L421.3,89.3 L422.0,89.5 L422.7,89.8 L423.4,90.1 L424.1,90.6 L424.8,91.1 L425.5,91.6 L426.2,92.2 L426.9,92.9 L427.7,93.6 L428.4,94.4 L429.1,95.4 L429.8,96.4 L430.5,97.7 L431.2,99.1 L431.9,100.7 L432.6,102.4 L433.3,104.2 L434.0,106.2 L434.7,108.2 L435.4,110.3 L436.1,112.4 L436.8,114.5 L437.5,116.6 L438.2,118.5 L438.9,120.4 L439.6,122.2 L440.3,124.1 L441.0,125.9 L441.7,127.7 L442.4,129.6 L443.1,131.3 L443.8,133.1 L444.5,134.9 L445.2,136.6 L445.9,138.3 L446.6,140.0" fill="none" stroke="#ff2222" stroke-width="1.4" stroke-linejoin="round" stroke-linecap="butt"/>
<path d="M255.0,93.0 L255.7,92.0 L256.4,91.0 L257.1,90.1 L257.8,89.1 L258.5,88.1 L259.2,87.2 L259.9,86.2 L260.6,85.3 L261.3,84.3 L262.0,83.4 L262.7,82.4 L263.4,81.4 L264.1,80.3 L264.8,79.2 L265.5,78.1 L266.2,77.0 L266.9,75.9 L267.6,74.8 L268.3,73.8 L269.0,72.9 L269.7,72.0 L270.4,71.2 L271.1,70.5 L271.8,69.9 L272.5,69.5 L273.2,69.2 L273.9,68.9 L274.7,68.6 L275.4,68.3 L276.1,68.0 L276.8,67.8 L277.5,67.6 L278.2,67.4 L278.9,67.2 L279.6,67.1 L280.3,67.0 L281.0,66.9 L281.7,66.8 L282.4,66.8 L283.1,66.8 L283.8,67.0 L284.5,67.2 L285.2,67.6 L285.9,67.9 L286.6,68.4 L287.3,68.9 L288.0,69.5 L288.7,70.0 L289.4,70.6 L290.1,71.2 L290.8,71.9 L291.5,72.5 L292.2,73.2 L292.9,74.0 L293.6,74.8 L294.3,75.8 L295.0,76.8 L295.7,77.9 L296.4,79.0 L297.1,80.1 L297.8,81.2 L298.5,82.3 L299.2,83.4 L299.9,84.4 L300.6,85.5 L301.3,86.6 L302.0,87.8 L302.7,88.9 L303.4,90.1 L304.1,91.2 L304.8,92.4 L305.5,93.5 L306.2,94.6 L306.9,95.7 L307.6,96.8 L308.3,97.9 L309.0,98.9 L309.7,99.9 L310.4,100.9 L311.1,101.9 L311.8,102.9 L312.6,103.9 L313.3,104.9 L314.0,105.8 L314.7,106.8 L315.4,107.7 L316.1,108.6 L316.8,109.5 L317.5,110.4 L318.2,111.2 L318.9,112.1 L319.6,112.9 L320.3,113.7 L321.0,114.5 L321.7,115.3 L322.4,116.2 L323.1,117.0 L323.8,117.8 L324.5,118.7 L325.2,119.5 L325.9,120.4 L326.6,121.2 L327.3,122.1 L328.0,123.0 L328.7,123.8 L329.4,124.6 L330.1,125.4 L330.8,126.2 L331.5,127.0 L332.2,127.8 L332.9,128.5 L333.6,129.3 L334.3,130.0 L335.0,130.7 L335.7,131.5 L336.4,132.2 L337.1,132.8 L337.8,133.5 L338.5,134.2 L339.2,134.8 L339.9,135.4 L340.6,136.0 L341.3,136.6 L342.0,137.2 L342.7,137.7 L343.4,138.3 L344.1,138.8 L344.8,139.4 L345.5,139.9 L346.2,140.4 L346.9,140.9 L347.6,141.4 L348.3,141.9 L349.0,142.3 L349.7,142.8 L350.4,143.3 L351.2,143.8 L351.9,144.2 L352.6,144.7 L353.3,145.2 L354.0,145.6 L354.7,146.1 L355.4,146.5 L356.1,146.9 L356.8,147.3 L357.5,147.7 L358.2,148.1 L358.9,148.5 L359.6,148.9 L360.3,149.4 L361.0,149.8 L361.7,150.2 L362.4,150.6 L363.1,151.0 L363.8,151.2 L364.5,151.4 L365.2,151.5 L365.9,151.5 L366.6,151.5 L367.3,151.5 L368.0,151.4 L368.7,151.4 L369.4,151.3 L370.1,151.3 L370.8,151.2 L371.5,151.2 L372.2,151.1 L372.9,151.0 L373.6,150.9 L374.3,150.8 L375.0,150.6 L375.7,150.4 L376.4,150.2 L377.1,150.0 L377.8,149.8 L378.5,149.5 L379.2,149.3 L379.9,149.0 L380.6,148.8 L381.3,148.5 L382.0,148.3 L382.7,148.0 L383.4,147.8 L384.1,147.5 L384.8,147.2 L385.5,146.9 L386.2,146.6 L386.9,146.3 L387.6,145.9 L388.3,145.5 L389.0,145.1 L389.8,144.6 L390.5,144.1 L391.2,143.4 L391.9,142.7 L392.6,141.9 L393.3,141.1 L394.0,140.3 L394.7,139.4 L395.4,138.5 L396.1,137.6 L396.8,136.5 L397.5,135.4 L398.2,134.3 L398.9,133.1 L399.6,132.0 L400.3,130.8 L401.0,129.7 L401.7,128.7 L402.4,127.6 L403.1,126.6 L403.8,125.5 L404.5,124.6 L405.2,123.8 L405.9,123.0 L406.6,122.3 L407.3,121.6 L408.0,121.0 L408.7,120.4 L409.4,119.9 L410.1,119.4 L410.8,118.9 L411.5,118.4 L412.2,118.0 L412.9,117.6 L413.6,117.3 L414.3,117.1 L415.0,117.0 L415.7,116.8 L416.4,116.7 L417.1,116.7 L417.8,116.8 L418.5,117.0 L419.2,117.4 L419.9,117.8 L420.6,118.3 L421.3,118.7 L422.0,119.2 L422.7,119.8 L423.4,120.4 L424.1,121.1 L424.8,121.9 L425.5,122.7 L426.2,123.5 L426.9,124.4 L427.7,125.4 L428.4,126.5 L429.1,127.7 L429.8,129.0 L430.5,130.4 L431.2,131.9 L431.9,133.4 L432.6,135.0 L433.3,136.6 L434.0,138.3 L434.7,139.9 L435.4,141.7 L436.1,143.5 L436.8,145.5 L437.5,147.5 L438.2,149.5 L438.9,151.6 L439.6,153.7 L440.3,155.8 L441.0,158.0 L441.7,160.1 L442.4,162.3 L443.1,164.5 L443.8,166.8 L444.5,169.1 L445.2,171.4 L445.9,173.7 L446.6,176.1" fill="none" stroke="#c02828" stroke-width="1.4" stroke-linejoin="round" stroke-linecap="butt"/>
<path d="M255.0,108.0 L255.7,107.1 L256.4,106.1 L257.1,105.2 L257.8,104.3 L258.5,103.4 L259.2,102.5 L259.9,101.6 L260.6,100.7 L261.3,99.8 L262.0,99.0 L262.7,98.1 L263.4,97.2 L264.1,96.3 L264.8,95.4 L265.5,94.5 L266.2,93.7 L266.9,93.0 L267.6,92.3 L268.3,91.7 L269.0,91.2 L269.7,90.6 L270.4,90.1 L271.1,89.6 L271.8,89.1 L272.5,88.8 L273.2,88.6 L273.9,88.5 L274.7,88.6 L275.4,88.7 L276.1,89.0 L276.8,89.3 L277.5,89.7 L278.2,90.2 L278.9,90.8 L279.6,91.3 L280.3,91.9 L281.0,92.6 L281.7,93.2 L282.4,93.8 L283.1,94.4 L283.8,95.0 L284.5,95.6 L285.2,96.3 L285.9,97.0 L286.6,97.8 L287.3,98.6 L288.0,99.4 L288.7,100.2 L289.4,101.0 L290.1,101.9 L290.8,102.8 L291.5,103.6 L292.2,104.5 L292.9,105.4 L293.6,106.3 L294.3,107.3 L295.0,108.3 L295.7,109.3 L296.4,110.3 L297.1,111.3 L297.8,112.3 L298.5,113.4 L299.2,114.5 L299.9,115.5 L300.6,116.7 L301.3,117.8 L302.0,119.0 L302.7,120.2 L303.4,121.4 L304.1,122.7 L304.8,123.9 L305.5,125.1 L306.2,126.2 L306.9,127.4 L307.6,128.5 L308.3,129.7 L309.0,130.8 L309.7,131.8 L310.4,132.9 L311.1,133.9 L311.8,134.9 L312.6,135.9 L313.3,136.9 L314.0,137.9 L314.7,138.8 L315.4,139.7 L316.1,140.6 L316.8,141.4 L317.5,142.2 L318.2,143.0 L318.9,143.8 L319.6,144.6 L320.3,145.3 L321.0,146.0 L321.7,146.7 L322.4,147.4 L323.1,148.1 L323.8,148.8 L324.5,149.4 L325.2,150.0 L325.9,150.6 L326.6,151.2 L327.3,151.8 L328.0,152.4 L328.7,152.9 L329.4,153.5 L330.1,154.0 L330.8,154.5 L331.5,155.0 L332.2,155.5 L332.9,155.9 L333.6,156.4 L334.3,156.8 L335.0,157.2 L335.7,157.6 L336.4,157.9 L337.1,158.3 L337.8,158.7 L338.5,159.0 L339.2,159.4 L339.9,159.8 L340.6,160.1 L341.3,160.6 L342.0,161.0 L342.7,161.4 L343.4,161.8 L344.1,162.2 L344.8,162.5 L345.5,162.8 L346.2,163.0 L346.9,163.2 L347.6,163.4 L348.3,163.6 L349.0,163.8 L349.7,164.0 L350.4,164.1 L351.2,164.3 L351.9,164.4 L352.6,164.5 L353.3,164.6 L354.0,164.7 L354.7,164.8 L355.4,164.9 L356.1,165.0 L356.8,165.0 L357.5,165.1 L358.2,165.2 L358.9,165.2 L359.6,165.3 L360.3,165.3 L361.0,165.4 L361.7,165.4 L362.4,165.4 L363.1,165.5 L363.8,165.5 L364.5,165.5 L365.2,165.5 L365.9,165.5 L366.6,165.5 L367.3,165.5 L368.0,165.4 L368.7,165.4 L369.4,165.3 L370.1,165.3 L370.8,165.2 L371.5,165.2 L372.2,165.1 L372.9,165.0 L373.6,165.0 L374.3,164.9 L375.0,164.8 L375.7,164.7 L376.4,164.6 L377.1,164.4 L377.8,164.2 L378.5,164.0 L379.2,163.8 L379.9,163.5 L380.6,163.3 L381.3,162.9 L382.0,162.6 L382.7,162.2 L383.4,161.7 L384.1,161.3 L384.8,160.8 L385.5,160.2 L386.2,159.7 L386.9,159.1 L387.6,158.5 L388.3,157.9 L389.0,157.3 L389.8,156.6 L390.5,155.9 L391.2,155.2 L391.9,154.5 L392.6,153.6 L393.3,152.7 L394.0,151.7 L394.7,150.7 L395.4,149.7 L396.1,148.6 L396.8,147.6 L397.5,146.5 L398.2,145.5 L398.9,144.5 L399.6,143.5 L400.3,142.6 L401.0,141.7 L401.7,140.8 L402.4,139.8 L403.1,138.8 L403.8,137.9 L404.5,137.0 L405.2,136.2 L405.9,135.4 L406.6,134.8 L407.3,134.2 L408.0,133.7 L408.7,133.3 L409.4,132.9 L410.1,132.5 L410.8,132.1 L411.5,131.8 L412.2,131.6 L412.9,131.4 L413.6,131.4 L414.3,131.5 L415.0,131.6 L415.7,131.9 L416.4,132.2 L417.1,132.7 L417.8,133.1 L418.5,133.7 L419.2,134.2 L419.9,134.8 L420.6,135.5 L421.3,136.1 L422.0,136.7 L422.7,137.5 L423.4,138.4 L424.1,139.4 L424.8,140.6 L425.5,141.9 L426.2,143.2 L426.9,144.5 L427.7,145.9 L428.4,147.1 L429.1,148.4 L429.8,149.5 L430.5,150.6 L431.2,151.8 L431.9,152.9 L432.6,154.0 L433.3,155.1 L434.0,156.2 L434.7,157.3 L435.4,158.3 L436.1,159.2 L436.8,160.1 L437.5,160.8 L438.2,161.5 L438.9,162.1 L439.6,162.6 L440.3,163.3 L441.0,164.0 L441.7,165.0 L442.4,166.2 L443.1,167.8 L443.8,169.8 L444.5,172.0 L445.2,174.4 L445.9,177.0 L446.6,179.8" fill="none" stroke="#7a2a5a" stroke-width="1.4" stroke-linejoin="round" stroke-linecap="butt"/>
<path d="M255.0,132.0 L255.7,130.8 L256.4,129.7 L257.1,128.6 L257.8,127.6 L258.5,126.7 L259.2,125.9 L259.9,125.1 L260.6,124.4 L261.3,123.8 L262.0,123.2 L262.7,122.7 L263.4,122.1 L264.1,121.6 L264.8,121.1 L265.5,120.6 L266.2,120.1 L266.9,119.6 L267.6,119.0 L268.3,118.5 L269.0,118.1 L269.7,117.6 L270.4,117.1 L271.1,116.7 L271.8,116.4 L272.5,116.0 L273.2,115.7 L273.9,115.5 L274.7,115.5 L275.4,115.7 L276.1,115.9 L276.8,116.1 L277.5,116.5 L278.2,116.9 L278.9,117.3 L279.6,117.7 L280.3,118.2 L281.0,118.9 L281.7,119.9 L282.4,121.0 L283.1,122.3 L283.8,123.5 L284.5,124.6 L285.2,125.6 L285.9,126.6 L286.6,127.5 L287.3,128.3 L288.0,129.2 L288.7,130.1 L289.4,130.9 L290.1,131.8 L290.8,132.7 L291.5,133.7 L292.2,134.6 L292.9,135.6 L293.6,136.6 L294.3,137.6 L295.0,138.6 L295.7,139.6 L296.4,140.6 L297.1,141.6 L297.8,142.6 L298.5,143.6 L299.2,144.6 L299.9,145.6 L300.6,146.7 L301.3,147.7 L302.0,148.7 L302.7,149.8 L303.4,150.8 L304.1,151.8 L304.8,152.8 L305.5,153.8 L306.2,154.7 L306.9,155.6 L307.6,156.5 L308.3,157.4 L309.0,158.2 L309.7,159.1 L310.4,159.9 L311.1,160.6 L311.8,161.4 L312.6,162.2 L313.3,162.9 L314.0,163.6 L314.7,164.4 L315.4,165.1 L316.1,165.7 L316.8,166.4 L317.5,167.0 L318.2,167.7 L318.9,168.3 L319.6,168.9 L320.3,169.4 L321.0,170.0 L321.7,170.5 L322.4,171.0 L323.1,171.6 L323.8,172.1 L324.5,172.6 L325.2,173.1 L325.9,173.5 L326.6,174.0 L327.3,174.5 L328.0,174.9 L328.7,175.3 L329.4,175.8 L330.1,176.2 L330.8,176.6 L331.5,177.0 L332.2,177.4 L332.9,177.8 L333.6,178.2 L334.3,178.5 L335.0,178.9 L335.7,179.3 L336.4,179.6 L337.1,180.0 L337.8,180.3 L338.5,180.6 L339.2,180.9 L339.9,181.2 L340.6,181.5 L341.3,181.8 L342.0,182.0 L342.7,182.2 L343.4,182.4 L344.1,182.7 L344.8,182.9 L345.5,183.1 L346.2,183.2 L346.9,183.4 L347.6,183.6 L348.3,183.7 L349.0,183.8 L349.7,184.0 L350.4,184.1 L351.2,184.2 L351.9,184.3 L352.6,184.4 L353.3,184.5 L354.0,184.6 L354.7,184.7 L355.4,184.8 L356.1,184.9 L356.8,184.9 L357.5,185.0 L358.2,185.1 L358.9,185.2 L359.6,185.2 L360.3,185.3 L361.0,185.4 L361.7,185.4 L362.4,185.4 L363.1,185.5 L363.8,185.5 L364.5,185.5 L365.2,185.5 L365.9,185.5 L366.6,185.5 L367.3,185.4 L368.0,185.4 L368.7,185.4 L369.4,185.3 L370.1,185.3 L370.8,185.2 L371.5,185.1 L372.2,185.0 L372.9,184.9 L373.6,184.8 L374.3,184.7 L375.0,184.6 L375.7,184.5 L376.4,184.3 L377.1,184.2 L377.8,184.0 L378.5,183.8 L379.2,183.5 L379.9,183.1 L380.6,182.5 L381.3,181.9 L382.0,181.2 L382.7,180.4 L383.4,179.7 L384.1,178.9 L384.8,178.2 L385.5,177.4 L386.2,176.6 L386.9,175.8 L387.6,174.9 L388.3,174.0 L389.0,173.1 L389.8,172.2 L390.5,171.3 L391.2,170.4 L391.9,169.6 L392.6,168.7 L393.3,167.8 L394.0,166.9 L394.7,166.0 L395.4,165.1 L396.1,164.2 L396.8,163.3 L397.5,162.4 L398.2,161.4 L398.9,160.5 L399.6,159.4 L400.3,158.4 L401.0,157.3 L401.7,156.3 L402.4,155.3 L403.1,154.4 L403.8,153.5 L404.5,152.6 L405.2,151.7 L405.9,150.9 L406.6,150.2 L407.3,149.5 L408.0,149.0 L408.7,148.6 L409.4,148.1 L410.1,147.7 L410.8,147.3 L411.5,147.0 L412.2,146.8 L412.9,146.6 L413.6,146.6 L414.3,146.7 L415.0,146.8 L415.7,147.0 L416.4,147.3 L417.1,147.6 L417.8,148.0 L418.5,148.4 L419.2,148.9 L419.9,149.3 L420.6,150.0 L421.3,150.8 L422.0,151.7 L422.7,152.8 L423.4,153.9 L424.1,155.1 L424.8,156.3 L425.5,157.6 L426.2,158.8 L426.9,160.0 L427.7,161.2 L428.4,162.4 L429.1,163.6 L429.8,164.8 L430.5,166.0 L431.2,167.3 L431.9,168.6 L432.6,169.9 L433.3,171.3 L434.0,172.7 L434.7,174.2 L435.4,175.7 L436.1,177.2 L436.8,178.8 L437.5,180.5 L438.2,182.2 L438.9,183.9 L439.6,185.6 L440.3,187.3 L441.0,189.1 L441.7,190.8 L442.4,192.5 L443.1,194.2 L443.8,196.0 L444.5,197.7 L445.2,199.5 L445.9,201.3 L446.6,203.1" fill="none" stroke="#2020ff" stroke-width="1.5" stroke-dasharray="5 4" stroke-linejoin="round" stroke-linecap="butt"/>
<path d="M255.0,199.5 L255.7,199.5 L256.4,199.5 L257.1,199.5 L257.8,199.5 L258.5,199.5 L259.2,199.5 L259.9,199.5 L260.6,199.5 L261.3,199.5 L262.0,199.5 L262.7,199.5 L263.4,199.5 L264.1,199.5 L264.8,199.5 L265.5,199.5 L266.2,199.5 L266.9,199.5 L267.6,199.5 L268.3,199.5 L269.0,199.5 L269.7,199.5 L270.4,199.5 L271.1,199.5 L271.8,199.5 L272.5,199.5 L273.2,199.6 L273.9,199.6 L274.7,199.6 L275.4,199.7 L276.1,199.7 L276.8,199.7 L277.5,199.8 L278.2,199.8 L278.9,199.9 L279.6,199.9 L280.3,200.0 L281.0,200.0 L281.7,200.1 L282.4,200.1 L283.1,200.2 L283.8,200.3 L284.5,200.4 L285.2,200.5 L285.9,200.6 L286.6,200.7 L287.3,200.8 L288.0,200.9 L288.7,201.0 L289.4,201.2 L290.1,201.3 L290.8,201.4 L291.5,201.6 L292.2,201.7 L292.9,201.8 L293.6,201.9 L294.3,202.1 L295.0,202.2 L295.7,202.4 L296.4,202.5 L297.1,202.7 L297.8,202.8 L298.5,203.0 L299.2,203.2 L299.9,203.3 L300.6,203.5 L301.3,203.7 L302.0,203.9 L302.7,204.0 L303.4,204.2 L304.1,204.4 L304.8,204.6 L305.5,204.8 L306.2,205.0 L306.9,205.2 L307.6,205.4 L308.3,205.6 L309.0,205.8 L309.7,206.0 L310.4,206.2 L311.1,206.4 L311.8,206.6 L312.6,206.8 L313.3,206.9 L314.0,207.1 L314.7,207.3 L315.4,207.5 L316.1,207.7 L316.8,207.8 L317.5,208.0 L318.2,208.2 L318.9,208.3 L319.6,208.5 L320.3,208.7 L321.0,208.8 L321.7,209.0 L322.4,209.2 L323.1,209.3 L323.8,209.5 L324.5,209.6 L325.2,209.8 L325.9,210.0 L326.6,210.1 L327.3,210.3 L328.0,210.4 L328.7,210.6 L329.4,210.8 L330.1,210.9 L330.8,211.1 L331.5,211.3 L332.2,211.5 L332.9,211.7 L333.6,211.8 L334.3,212.0 L335.0,212.2 L335.7,212.4 L336.4,212.6 L337.1,212.8 L337.8,213.0 L338.5,213.3 L339.2,213.5 L339.9,213.8 L340.6,214.0 L341.3,214.3 L342.0,214.6 L342.7,214.9 L343.4,215.2 L344.1,215.5 L344.8,215.8 L345.5,216.0 L346.2,216.3 L346.9,216.6 L347.6,216.8 L348.3,217.1 L349.0,217.3 L349.7,217.5 L350.4,217.7 L351.2,217.9 L351.9,218.1 L352.6,218.3 L353.3,218.4 L354.0,218.6 L354.7,218.8 L355.4,218.9 L356.1,219.1 L356.8,219.3 L357.5,219.4 L358.2,219.5 L358.9,219.7 L359.6,219.8 L360.3,219.9 L361.0,220.1 L361.7,220.2 L362.4,220.3 L363.1,220.4 L363.8,220.5 L364.5,220.6 L365.2,220.7 L365.9,220.8 L366.6,221.0 L367.3,221.1 L368.0,221.2 L368.7,221.3 L369.4,221.4 L370.1,221.5 L370.8,221.6 L371.5,221.7 L372.2,221.7 L372.9,221.8 L373.6,221.9 L374.3,222.0 L375.0,222.0 L375.7,222.1 L376.4,222.1 L377.1,222.2 L377.8,222.2 L378.5,222.2 L379.2,222.2 L379.9,222.2 L380.6,222.2 L381.3,222.3 L382.0,222.3 L382.7,222.3 L383.4,222.3 L384.1,222.3 L384.8,222.3 L385.5,222.3 L386.2,222.3 L386.9,222.3 L387.6,222.3 L388.3,222.3 L389.0,222.3 L389.8,222.4 L390.5,222.4 L391.2,222.4 L391.9,222.4 L392.6,222.4 L393.3,222.4 L394.0,222.4 L394.7,222.4 L395.4,222.4 L396.1,222.4 L396.8,222.4 L397.5,222.4 L398.2,222.4 L398.9,222.4 L399.6,222.5 L400.3,222.5 L401.0,222.5 L401.7,222.5 L402.4,222.5 L403.1,222.5 L403.8,222.5 L404.5,222.5 L405.2,222.5 L405.9,222.5 L406.6,222.5 L407.3,222.4 L408.0,222.4 L408.7,222.3 L409.4,222.2 L410.1,222.1 L410.8,222.0 L411.5,221.8 L412.2,221.4 L412.9,220.8 L413.6,220.1 L414.3,219.2 L415.0,218.0 L415.7,216.6 L416.4,215.1 L417.1,213.7 L417.8,212.5 L418.5,211.4 L419.2,210.3 L419.9,209.3 L420.6,208.2 L421.3,207.0 L422.0,205.7 L422.7,204.3 L423.4,202.9 L424.1,201.3 L424.8,199.8 L425.5,198.3 L426.2,196.8 L426.9,195.4 L427.7,194.1 L428.4,192.8 L429.1,191.6 L429.8,190.4 L430.5,189.4 L431.2,188.6 L431.9,187.9 L432.6,187.2 L433.3,186.7 L434.0,186.5 L434.7,186.5 L435.4,186.7 L436.1,186.8 L436.8,187.1 L437.5,187.3 L438.2,187.6 L438.9,188.0 L439.6,188.4 L440.3,188.9 L441.0,189.5 L441.7,190.1 L442.4,190.8 L443.1,191.6 L443.8,192.5 L444.5,193.5 L445.2,194.5 L445.9,195.6 L446.6,196.8" fill="none" stroke="#333" stroke-width="1.5" stroke-dasharray="2.5 3.7" stroke-linejoin="round" stroke-linecap="butt"/>
<circle cx="376.8" cy="116" r="5.6" fill="#4a8fd8"/>
<circle cx="389.6" cy="116" r="5.6" fill="#4a8fd8"/>
<circle cx="402.4" cy="116" r="5.6" fill="#4a8fd8"/>
<circle cx="376.8" cy="116.6" r="4.6" fill="#ef7e32"/>
<circle cx="389.6" cy="116.6" r="4.6" fill="#ef7e32"/>
<circle cx="402.4" cy="116.6" r="4.6" fill="#ef7e32"/>
<ellipse cx="376.8" cy="119.8" rx="2.4" ry="1.5" fill="#fbb90d"/>
<ellipse cx="389.6" cy="119.8" rx="2.4" ry="1.5" fill="#fbb90d"/>
<ellipse cx="402.4" cy="119.8" rx="2.4" ry="1.5" fill="#fbb90d"/>
<circle cx="358.1" cy="148.9" r="5.5" fill="#4a8fd8"/>
<circle cx="370.7" cy="148.9" r="5.5" fill="#4a8fd8"/>
<circle cx="383.3" cy="148.9" r="5.5" fill="#4a8fd8"/>
<circle cx="358.1" cy="149.5" r="4.5" fill="#ef7e32"/>
<circle cx="370.7" cy="149.5" r="4.5" fill="#ef7e32"/>
<circle cx="383.3" cy="149.5" r="4.5" fill="#ef7e32"/>
<circle cx="358.1" cy="150.9" r="3.5" fill="#fbb90d" stroke="#e08a20" stroke-width="0.5"/>
<circle cx="370.7" cy="150.9" r="3.5" fill="#fbb90d" stroke="#e08a20" stroke-width="0.5"/>
<circle cx="383.3" cy="150.9" r="3.5" fill="#fbb90d" stroke="#e08a20" stroke-width="0.5"/>
<circle cx="351" cy="167.5" r="5.6" fill="#4a8fd8"/>
<circle cx="362.2" cy="167.5" r="5.6" fill="#4a8fd8"/>
<circle cx="373.8" cy="167.5" r="5.6" fill="#4a8fd8"/>
<circle cx="351" cy="168.1" r="4.6" fill="#ef7e32"/>
<circle cx="362.2" cy="168.1" r="4.6" fill="#ef7e32"/>
<circle cx="373.8" cy="168.1" r="4.6" fill="#ef7e32"/>
<circle cx="351" cy="169.0" r="4.2" fill="#fbb90d" stroke="#e08a20" stroke-width="0.5"/>
<circle cx="362.2" cy="169.0" r="4.2" fill="#fbb90d" stroke="#e08a20" stroke-width="0.5"/>
<circle cx="373.8" cy="169.0" r="4.2" fill="#fbb90d" stroke="#e08a20" stroke-width="0.5"/>
<circle cx="351.1" cy="187.2" r="5.3" fill="#fbb90d" stroke="#c9a040" stroke-width="0.6"/>
<circle cx="363.3" cy="187.2" r="5.3" fill="#fbb90d" stroke="#c9a040" stroke-width="0.6"/>
<circle cx="375.6" cy="187.2" r="5.3" fill="#fbb90d" stroke="#c9a040" stroke-width="0.6"/>
<ellipse cx="346.9" cy="214" rx="4.3" ry="5.4" fill="#ef7e32" stroke="#d9a070" stroke-width="0.6"/>
<ellipse cx="357.4" cy="214" rx="4.3" ry="5.4" fill="#ef7e32" stroke="#d9a070" stroke-width="0.6"/>
<ellipse cx="367.6" cy="214" rx="4.3" ry="5.4" fill="#ef7e32" stroke="#d9a070" stroke-width="0.6"/>
<text x="262.1" y="31.2" font-size="13" text-anchor="start" textLength="45.3" lengthAdjust="spacingAndGlyphs" fill="#1a1a1a" style="stroke-width:0.45px">Ge (111)</text>
<rect x="411.5" y="61" width="5" height="11" fill="#fff"/>
<text x="407.9" y="70.5" font-size="12.5" text-anchor="start" textLength="14.5" lengthAdjust="spacingAndGlyphs" fill="#1a1a1a" style="stroke-width:0.6px">Ge</text>
<text x="386" y="87" font-size="13" text-anchor="start" textLength="61.6" lengthAdjust="spacingAndGlyphs" fill="#1a1a1a" >(220)+(311)</text>
<rect x="261" y="173" width="64" height="20" fill="#fff"/>
<text x="262.4" y="188" font-size="13" text-anchor="start" textLength="61" lengthAdjust="spacingAndGlyphs" fill="#1a1a1a" >Δθ~1.6 deg</text>
<rect x="29.9" y="280" width="183.7" height="224.3" fill="none" stroke="#8c8c8c" stroke-width="1.35"/>
<text x="37.8" y="300" font-size="13" text-anchor="start" textLength="14.9" lengthAdjust="spacingAndGlyphs" font-weight="bold" fill="#1a1a1a" style="stroke-width:0">(c)</text>
<line x1="29.9" y1="330.5" x2="32.4" y2="330.5" stroke="#8c8c8c" stroke-width="1"/>
<line x1="29.9" y1="381.2" x2="32.4" y2="381.2" stroke="#8c8c8c" stroke-width="1"/>
<line x1="29.9" y1="431.5" x2="32.4" y2="431.5" stroke="#8c8c8c" stroke-width="1"/>
<line x1="29.9" y1="481.8" x2="32.4" y2="481.8" stroke="#8c8c8c" stroke-width="1"/>
<line x1="213.6" y1="330.5" x2="211.1" y2="330.5" stroke="#8c8c8c" stroke-width="1"/>
<line x1="213.6" y1="381.2" x2="211.1" y2="381.2" stroke="#8c8c8c" stroke-width="1"/>
<line x1="213.6" y1="431.5" x2="211.1" y2="431.5" stroke="#8c8c8c" stroke-width="1"/>
<line x1="213.6" y1="481.8" x2="211.1" y2="481.8" stroke="#8c8c8c" stroke-width="1"/>
<line x1="56.05" y1="504.3" x2="56.05" y2="501.8" stroke="#8c8c8c" stroke-width="1"/>
<line x1="82.19999999999999" y1="504.3" x2="82.19999999999999" y2="501.8" stroke="#8c8c8c" stroke-width="1"/>
<line x1="108.35" y1="504.3" x2="108.35" y2="501.8" stroke="#8c8c8c" stroke-width="1"/>
<line x1="134.5" y1="504.3" x2="134.5" y2="501.8" stroke="#8c8c8c" stroke-width="1"/>
<line x1="160.65" y1="504.3" x2="160.65" y2="501.8" stroke="#8c8c8c" stroke-width="1"/>
<line x1="186.79999999999998" y1="504.3" x2="186.79999999999998" y2="501.8" stroke="#8c8c8c" stroke-width="1"/>
<line x1="212.95" y1="504.3" x2="212.95" y2="501.8" stroke="#8c8c8c" stroke-width="1"/>
<line x1="56.05" y1="280" x2="56.05" y2="282.5" stroke="#8c8c8c" stroke-width="1"/>
<line x1="82.19999999999999" y1="280" x2="82.19999999999999" y2="282.5" stroke="#8c8c8c" stroke-width="1"/>
<line x1="108.35" y1="280" x2="108.35" y2="282.5" stroke="#8c8c8c" stroke-width="1"/>
<line x1="134.5" y1="280" x2="134.5" y2="282.5" stroke="#8c8c8c" stroke-width="1"/>
<line x1="160.65" y1="280" x2="160.65" y2="282.5" stroke="#8c8c8c" stroke-width="1"/>
<line x1="186.79999999999998" y1="280" x2="186.79999999999998" y2="282.5" stroke="#8c8c8c" stroke-width="1"/>
<line x1="212.95" y1="280" x2="212.95" y2="282.5" stroke="#8c8c8c" stroke-width="1"/>
<text x="29.9" y="512.5" font-size="6.5" text-anchor="middle" fill="#444" style="font-family:'Liberation Sans',sans-serif;stroke-width:0.1px;stroke:#444">100</text>
<text x="82.2" y="512.5" font-size="6.5" text-anchor="middle" fill="#444" style="font-family:'Liberation Sans',sans-serif;stroke-width:0.1px;stroke:#444">200</text>
<text x="134.5" y="512.5" font-size="6.5" text-anchor="middle" fill="#444" style="font-family:'Liberation Sans',sans-serif;stroke-width:0.1px;stroke:#444">300</text>
<text x="186.8" y="512.5" font-size="6.5" text-anchor="middle" fill="#444" style="font-family:'Liberation Sans',sans-serif;stroke-width:0.1px;stroke:#444">400</text>
<text x="70.4" y="532.5" font-size="13.6" text-anchor="start" textLength="66.6" lengthAdjust="spacingAndGlyphs" fill="#1a1a1a" style="stroke-width:0.4px">Raman shift</text>
<text x="139.9" y="532.5" font-size="13.6" text-anchor="start" textLength="19.5" lengthAdjust="spacingAndGlyphs" fill="#1a1a1a" style="stroke-width:0.4px">(cm</text>
<text x="161.8" y="528.6" font-size="7.5" text-anchor="start" textLength="4.9" lengthAdjust="spacingAndGlyphs" fill="#1a1a1a" >-1</text>
<text x="167.8" y="532.5" font-size="13.4" text-anchor="start" textLength="3.9" lengthAdjust="spacingAndGlyphs" fill="#1a1a1a" >)</text>
<text transform="translate(11.6,386.6) rotate(-90)" x="0" y="0" font-size="13.5" text-anchor="middle" textLength="97.5" lengthAdjust="spacingAndGlyphs" fill="#1a1a1a">Intensity (Arb .u.)</text>
<line x1="142.1" y1="295.2" x2="172.5" y2="295.2" stroke="#f8f82c" stroke-width="1.4"/>
<line x1="142.1" y1="312" x2="172.5" y2="312" stroke="#58cc2a" stroke-width="1.4"/>
<line x1="142.1" y1="328.9" x2="172.5" y2="328.9" stroke="#1f8f55" stroke-width="1.4"/>
<line x1="142.1" y1="345.7" x2="172.5" y2="345.7" stroke="#5a5aff" stroke-width="1.4" stroke-dasharray="3.5 4.5"/>
<text x="175.2" y="298.9" font-size="13.5" text-anchor="start" textLength="37" lengthAdjust="spacingAndGlyphs" fill="#1a1a1a" >Ge6Al</text>
<text x="175.2" y="315.7" font-size="13.5" text-anchor="start" textLength="37" lengthAdjust="spacingAndGlyphs" fill="#1a1a1a" >Ge5Al</text>
<text x="175.2" y="332.5" font-size="13.5" text-anchor="start" textLength="37" lengthAdjust="spacingAndGlyphs" fill="#1a1a1a" >Ge4Al</text>
<text x="175.2" y="349.3" font-size="13.5" text-anchor="start" fill="#1a1a1a" >Ge4</text>
<text x="90.3" y="294.7" font-size="13" text-anchor="start" textLength="8.1" lengthAdjust="spacingAndGlyphs" fill="#1a1a1a" >Δ</text>
<text x="98.4" y="298.7" font-size="8.5" text-anchor="start" textLength="13.1" lengthAdjust="spacingAndGlyphs" fill="#1a1a1a" >max</text>
<text x="112.2" y="294.7" font-size="13" text-anchor="start" textLength="32.2" lengthAdjust="spacingAndGlyphs" fill="#1a1a1a" >~7 cm</text>
<text x="146.6" y="289" font-size="8.5" text-anchor="start" textLength="6.6" lengthAdjust="spacingAndGlyphs" fill="#1a1a1a" >-1</text>
<line x1="118" y1="309" x2="118" y2="504" stroke="#ff2222" stroke-width="1.6" stroke-dasharray="2.8 4.4"/>
<line x1="122.6" y1="307.5" x2="122.6" y2="504" stroke="#222" stroke-width="1.6" stroke-dasharray="2.8 4.4"/>
<path d="M30.0,346.0 L31.5,350.0 L33.0,352.6 L34.5,351.5 L36.0,353.7 L38.0,356.0 L40.0,357.5 L43.0,358.5 L46.0,358.8 L50.0,357.5 L53.0,356.8 L55.0,355.9 L58.0,354.0 L60.0,353.4 L62.0,352.6 L65.0,351.5 L68.0,350.9 L70.0,349.6 L72.0,350.8 L75.0,350.4 L78.0,350.6 L80.0,350.9 L82.0,350.0 L83.5,348.3 L85.0,348.5 L88.0,347.1 L91.0,346.0 L95.0,343.9 L99.0,341.0 L103.0,337.3 L107.0,332.5 L110.0,328.5 L113.0,324.5 L115.0,321.9 L117.0,320.0 L119.0,319.3 L121.0,320.0 L123.0,321.8 L126.0,327.0 L128.0,333.0 L131.0,343.0 L134.0,351.0 L137.0,356.5 L141.0,360.0 L145.0,361.8 L152.0,363.8 L160.0,366.3 L170.0,368.6 L180.0,371.0 L190.0,374.0 L198.0,377.5 L204.0,379.0 L208.4,379.8 L213.5,380.0" fill="none" stroke="#f8f82c" stroke-width="1.5" stroke-linejoin="round" stroke-linecap="butt"/>
<path d="M30.0,376.3 L31.5,379.0 L33.0,382.2 L35.5,385.5 L38.0,388.8 L41.0,392.0 L45.0,395.4 L48.0,395.0 L52.0,393.2 L56.0,391.0 L58.0,389.5 L60.0,388.8 L62.0,387.2 L64.0,386.5 L66.0,385.5 L68.0,384.4 L70.0,383.0 L72.0,382.0 L75.0,380.7 L78.0,380.0 L80.0,381.0 L82.0,379.4 L84.0,380.2 L86.0,379.5 L90.0,378.9 L95.0,377.5 L100.0,375.7 L104.0,372.0 L108.0,368.0 L112.0,362.5 L115.0,359.2 L117.0,357.0 L119.0,356.4 L121.0,357.0 L123.0,358.1 L125.5,363.0 L128.0,370.2 L130.5,380.0 L133.0,388.0 L136.5,394.5 L141.4,401.5 L146.0,404.0 L151.0,405.5 L160.0,409.0 L170.0,413.5 L182.0,417.0 L192.0,419.5 L204.0,421.0 L213.5,421.2" fill="none" stroke="#58cc2a" stroke-width="1.5" stroke-linejoin="round" stroke-linecap="butt"/>
<path d="M30.0,389.9 L31.0,393.0 L32.0,397.5 L33.5,402.0 L35.0,406.3 L36.5,407.0 L38.0,408.5 L40.0,413.0 L42.0,417.3 L45.0,420.5 L48.0,422.8 L51.0,424.0 L55.0,425.0 L58.0,425.8 L60.0,426.1 L62.0,425.6 L65.0,423.9 L67.0,422.0 L68.0,421.7 L70.0,418.4 L71.5,419.0 L73.0,419.9 L75.5,420.5 L78.0,421.2 L80.0,422.5 L82.0,423.9 L83.0,425.0 L84.5,423.5 L86.0,422.1 L88.0,421.5 L90.0,420.6 L92.5,418.0 L95.0,415.1 L97.5,412.0 L100.0,408.5 L102.5,405.0 L105.0,401.9 L107.5,399.0 L110.0,396.4 L112.5,394.5 L115.0,393.6 L117.2,393.3 L119.0,393.6 L122.0,396.9 L124.5,402.0 L126.9,409.0 L129.0,413.0 L131.5,420.5 L134.0,427.0 L136.5,434.0 L139.0,440.7 L141.5,445.2 L144.0,446.5 L148.0,447.3 L153.0,449.0 L159.0,452.0 L164.0,455.3 L170.3,459.6 L176.5,464.5 L182.4,469.0 L189.0,474.0 L194.4,476.8 L201.5,479.5 L206.5,481.0 L213.6,482.0" fill="none" stroke="#1f8f55" stroke-width="1.5" stroke-linejoin="round" stroke-linecap="butt"/>
<path d="M30.0,450.2 L30.7,453.4 L31.4,456.6 L32.1,459.8 L32.8,462.7 L33.5,464.5 L34.2,465.9 L34.9,467.0 L35.6,468.2 L36.3,469.5 L37.0,470.7 L37.7,471.8 L38.4,472.5 L39.1,473.0 L39.8,473.5 L40.5,473.9 L41.2,474.3 L41.9,474.8 L42.6,475.2 L43.3,475.6 L44.0,476.0 L44.7,476.4 L45.4,476.7 L46.1,477.0 L46.8,477.4 L47.5,477.7 L48.2,477.9 L48.9,478.1 L49.6,478.3 L50.3,478.5 L51.0,478.6 L51.7,478.7 L52.4,478.7 L53.1,478.7 L53.8,478.6 L54.5,478.5 L55.2,478.4 L55.9,478.3 L56.6,478.2 L57.3,478.1 L58.0,478.0 L58.7,477.8 L59.4,477.7 L60.1,477.6 L60.8,477.4 L61.5,477.3 L62.2,477.1 L62.9,477.0 L63.6,476.8 L64.3,476.6 L65.0,476.5 L65.7,476.3 L66.4,476.1 L67.1,475.9 L67.8,475.7 L68.5,475.6 L69.2,475.4 L69.9,475.4 L70.6,475.4 L71.3,475.4 L72.0,475.4 L72.7,475.4 L73.4,475.5 L74.1,475.5 L74.8,475.5 L75.5,475.5 L76.3,475.6 L77.0,475.7 L77.7,475.8 L78.4,475.9 L79.1,476.0 L79.8,476.1 L80.5,476.1 L81.2,476.2 L81.9,476.2 L82.6,476.2 L83.3,476.3 L84.0,476.3 L84.7,476.3 L85.4,476.4 L86.1,476.4 L86.8,476.5 L87.5,476.5 L88.2,476.5 L88.9,476.4 L89.6,476.2 L90.3,475.9 L91.0,475.7 L91.7,475.4 L92.4,475.2 L93.1,475.0 L93.8,474.8 L94.5,474.5 L95.2,474.2 L95.9,473.9 L96.6,473.6 L97.3,473.2 L98.0,472.8 L98.7,472.4 L99.4,471.9 L100.1,471.4 L100.8,470.9 L101.5,470.3 L102.2,469.7 L102.9,469.1 L103.6,468.5 L104.3,467.8 L105.0,467.0 L105.7,466.2 L106.4,465.4 L107.1,464.5 L107.8,463.6 L108.5,462.7 L109.2,461.8 L109.9,460.9 L110.6,459.9 L111.3,458.7 L112.0,457.5 L112.7,456.2 L113.4,455.0 L114.1,453.7 L114.8,452.4 L115.5,451.2 L116.2,450.2 L116.9,449.3 L117.6,448.4 L118.3,447.7 L119.0,447.3 L119.7,447.1 L120.4,446.9 L121.1,446.8 L121.8,446.8 L122.5,447.0 L123.2,447.3 L123.9,447.7 L124.6,448.3 L125.3,449.0 L126.0,449.9 L126.7,450.8 L127.4,451.8 L128.1,453.0 L128.8,454.2 L129.5,455.4 L130.2,456.6 L130.9,457.9 L131.6,459.2 L132.3,460.7 L133.0,462.2 L133.7,463.8 L134.4,465.5 L135.1,467.3 L135.8,469.2 L136.5,471.1 L137.2,473.1 L137.9,475.0 L138.6,476.9 L139.3,479.0 L140.0,480.9 L140.7,482.8 L141.4,484.3 L142.1,485.7 L142.8,486.9 L143.5,488.1 L144.2,489.2 L144.9,490.1 L145.6,491.0 L146.3,491.8 L147.0,492.5 L147.7,493.1 L148.4,493.7 L149.1,494.2 L149.8,494.7 L150.5,495.1 L151.2,495.5 L151.9,495.9 L152.6,496.2 L153.3,496.5 L154.0,496.8 L154.7,497.1 L155.4,497.3 L156.1,497.5 L156.8,497.7 L157.5,498.0 L158.2,498.2 L158.9,498.3 L159.6,498.5 L160.3,498.7 L161.0,498.9 L161.7,499.0 L162.4,499.1 L163.1,499.3 L163.8,499.4 L164.5,499.5 L165.2,499.6 L165.9,499.7 L166.6,499.8 L167.3,499.9 L168.1,499.9 L168.8,500.0 L169.5,500.1 L170.2,500.2 L170.9,500.2 L171.6,500.3 L172.3,500.4 L173.0,500.4 L173.7,500.5 L174.4,500.5 L175.1,500.6 L175.8,500.6 L176.5,500.7 L177.2,500.7 L177.9,500.8 L178.6,500.8 L179.3,500.9 L180.0,500.9 L180.7,501.0 L181.4,501.0 L182.1,501.1 L182.8,501.1 L183.5,501.2 L184.2,501.2 L184.9,501.2 L185.6,501.3 L186.3,501.3 L187.0,501.3 L187.7,501.4 L188.4,501.4 L189.1,501.5 L189.8,501.5 L190.5,501.5 L191.2,501.6 L191.9,501.6 L192.6,501.6 L193.3,501.7 L194.0,501.7 L194.7,501.7 L195.4,501.7 L196.1,501.8 L196.8,501.8 L197.5,501.8 L198.2,501.9 L198.9,501.9 L199.6,501.9 L200.3,501.9 L201.0,502.0 L201.7,502.0 L202.4,502.0 L203.1,502.1 L203.8,502.1 L204.5,502.1 L205.2,502.2 L205.9,502.2 L206.6,502.2 L207.3,502.2 L208.0,502.3 L208.7,502.3 L209.4,502.3 L210.1,502.4 L210.8,502.4 L211.5,502.4 L212.2,502.4 L212.9,502.5 L213.6,502.5" fill="none" stroke="#5a5aff" stroke-width="1.5" stroke-dasharray="4 4" stroke-linejoin="round" stroke-linecap="butt"/>
<circle cx="175.5" cy="367.9" r="6.5" fill="#4a8fd8" stroke="#3f7fc6" stroke-width="0.5"/>
<circle cx="188.3" cy="367.9" r="6.5" fill="#4a8fd8" stroke="#3f7fc6" stroke-width="0.5"/>
<circle cx="202" cy="367.9" r="6.5" fill="#4a8fd8" stroke="#3f7fc6" stroke-width="0.5"/>
<circle cx="175.7" cy="370.2" r="4.7" fill="#fbb90d" stroke="#e0a000" stroke-width="0.6"/>
<circle cx="188.5" cy="370.2" r="4.7" fill="#fbb90d" stroke="#e0a000" stroke-width="0.6"/>
<circle cx="202.2" cy="370.2" r="4.7" fill="#fbb90d" stroke="#e0a000" stroke-width="0.6"/>
<circle cx="176.5" cy="412.3" r="6.1" fill="#4a8fd8" stroke="#3f7fc6" stroke-width="0.5"/>
<circle cx="187.4" cy="412.3" r="6.1" fill="#4a8fd8" stroke="#3f7fc6" stroke-width="0.5"/>
<circle cx="198.8" cy="412.3" r="6.1" fill="#4a8fd8" stroke="#3f7fc6" stroke-width="0.5"/>
<circle cx="176.7" cy="414.2" r="4.7" fill="#fbb90d" stroke="#e0a000" stroke-width="0.6"/>
<circle cx="187.6" cy="414.2" r="4.7" fill="#fbb90d" stroke="#e0a000" stroke-width="0.6"/>
<circle cx="199.0" cy="414.2" r="4.7" fill="#fbb90d" stroke="#e0a000" stroke-width="0.6"/>
<circle cx="177.4" cy="458.1" r="5.6" fill="#4a8fd8" stroke="#3f7fc6" stroke-width="0.5"/>
<circle cx="190" cy="458.9" r="5.6" fill="#4a8fd8" stroke="#3f7fc6" stroke-width="0.5"/>
<circle cx="202.5" cy="459.9" r="5.6" fill="#4a8fd8" stroke="#3f7fc6" stroke-width="0.5"/>
<circle cx="177.6" cy="460.1" r="3.9" fill="#fbb90d" stroke="#e0a000" stroke-width="0.6"/>
<circle cx="190.2" cy="460.9" r="3.9" fill="#fbb90d" stroke="#e0a000" stroke-width="0.6"/>
<circle cx="202.7" cy="461.9" r="3.9" fill="#fbb90d" stroke="#e0a000" stroke-width="0.6"/>
<circle cx="169.8" cy="498.2" r="5.3" fill="#fbb90d" stroke="#c9a040" stroke-width="0.6"/>
<circle cx="181.9" cy="498.2" r="5.3" fill="#fbb90d" stroke="#c9a040" stroke-width="0.6"/>
<circle cx="193.2" cy="498.2" r="5.3" fill="#fbb90d" stroke="#c9a040" stroke-width="0.6"/>
<rect x="248.5" y="277.6" width="193.39999999999998" height="225.39999999999998" fill="none" stroke="#8c8c8c" stroke-width="1.35"/>
<text x="263" y="298.8" font-size="13" text-anchor="start" textLength="17" lengthAdjust="spacingAndGlyphs" fill="#1a1a1a" style="stroke-width:0.5px">(d)</text>
<line x1="248.5" y1="307.5" x2="251.0" y2="307.5" stroke="#8c8c8c" stroke-width="1"/>
<line x1="248.5" y1="338.8" x2="251.0" y2="338.8" stroke="#8c8c8c" stroke-width="1"/>
<line x1="248.5" y1="369.5" x2="251.0" y2="369.5" stroke="#8c8c8c" stroke-width="1"/>
<line x1="248.5" y1="400" x2="251.0" y2="400" stroke="#8c8c8c" stroke-width="1"/>
<line x1="248.5" y1="430.5" x2="251.0" y2="430.5" stroke="#8c8c8c" stroke-width="1"/>
<line x1="248.5" y1="461" x2="251.0" y2="461" stroke="#8c8c8c" stroke-width="1"/>
<line x1="248.5" y1="491.5" x2="251.0" y2="491.5" stroke="#8c8c8c" stroke-width="1"/>
<line x1="441.9" y1="307.5" x2="439.4" y2="307.5" stroke="#8c8c8c" stroke-width="1"/>
<line x1="441.9" y1="338.8" x2="439.4" y2="338.8" stroke="#8c8c8c" stroke-width="1"/>
<line x1="441.9" y1="369.5" x2="439.4" y2="369.5" stroke="#8c8c8c" stroke-width="1"/>
<line x1="441.9" y1="400" x2="439.4" y2="400" stroke="#8c8c8c" stroke-width="1"/>
<line x1="441.9" y1="430.5" x2="439.4" y2="430.5" stroke="#8c8c8c" stroke-width="1"/>
<line x1="441.9" y1="461" x2="439.4" y2="461" stroke="#8c8c8c" stroke-width="1"/>
<line x1="441.9" y1="491.5" x2="439.4" y2="491.5" stroke="#8c8c8c" stroke-width="1"/>
<line x1="276.35" y1="503" x2="276.35" y2="500.5" stroke="#8c8c8c" stroke-width="1"/>
<line x1="304.2" y1="503" x2="304.2" y2="500.5" stroke="#8c8c8c" stroke-width="1"/>
<line x1="332.05" y1="503" x2="332.05" y2="500.5" stroke="#8c8c8c" stroke-width="1"/>
<line x1="359.9" y1="503" x2="359.9" y2="500.5" stroke="#8c8c8c" stroke-width="1"/>
<line x1="387.75" y1="503" x2="387.75" y2="500.5" stroke="#8c8c8c" stroke-width="1"/>
<line x1="415.6" y1="503" x2="415.6" y2="500.5" stroke="#8c8c8c" stroke-width="1"/>
<line x1="443.45000000000005" y1="503" x2="443.45000000000005" y2="500.5" stroke="#8c8c8c" stroke-width="1"/>
<line x1="276.35" y1="277.6" x2="276.35" y2="280.1" stroke="#8c8c8c" stroke-width="1"/>
<line x1="304.2" y1="277.6" x2="304.2" y2="280.1" stroke="#8c8c8c" stroke-width="1"/>
<line x1="332.05" y1="277.6" x2="332.05" y2="280.1" stroke="#8c8c8c" stroke-width="1"/>
<line x1="359.9" y1="277.6" x2="359.9" y2="280.1" stroke="#8c8c8c" stroke-width="1"/>
<line x1="387.75" y1="277.6" x2="387.75" y2="280.1" stroke="#8c8c8c" stroke-width="1"/>
<line x1="415.6" y1="277.6" x2="415.6" y2="280.1" stroke="#8c8c8c" stroke-width="1"/>
<line x1="443.45000000000005" y1="277.6" x2="443.45000000000005" y2="280.1" stroke="#8c8c8c" stroke-width="1"/>
<text x="248.5" y="511.9" font-size="6.5" text-anchor="middle" fill="#444" style="font-family:'Liberation Sans',sans-serif;stroke-width:0.1px;stroke:#444">100</text>
<text x="303.5" y="511.9" font-size="6.5" text-anchor="middle" fill="#444" style="font-family:'Liberation Sans',sans-serif;stroke-width:0.1px;stroke:#444">200</text>
<text x="359" y="511.9" font-size="6.5" text-anchor="middle" fill="#444" style="font-family:'Liberation Sans',sans-serif;stroke-width:0.1px;stroke:#444">300</text>
<text x="415.7" y="511.9" font-size="6.5" text-anchor="middle" fill="#444" style="font-family:'Liberation Sans',sans-serif;stroke-width:0.1px;stroke:#444">400</text>
<text x="293" y="532.2" font-size="13.8" text-anchor="start" textLength="69" lengthAdjust="spacingAndGlyphs" fill="#1a1a1a" style="stroke-width:0.4px">Raman shift</text>
<text x="364.8" y="532.2" font-size="13.8" text-anchor="start" textLength="19.7" lengthAdjust="spacingAndGlyphs" fill="#1a1a1a" style="stroke-width:0.4px">(cm</text>
<text x="386.2" y="526.3" font-size="7.5" text-anchor="start" textLength="4.4" lengthAdjust="spacingAndGlyphs" fill="#1a1a1a" >-1</text>
<text x="392.2" y="532.2" font-size="13.6" text-anchor="start" textLength="4.4" lengthAdjust="spacingAndGlyphs" fill="#1a1a1a" >)</text>
<text transform="translate(231.4,379.5) rotate(-90)" x="0" y="0" font-size="13.5" text-anchor="middle" textLength="99.4" lengthAdjust="spacingAndGlyphs" fill="#1a1a1a">Intensity (Arb. u.)</text>
<line x1="360.4" y1="295.7" x2="392.2" y2="295.7" stroke="#ff2222" stroke-width="1.6"/>
<line x1="360.4" y1="313.7" x2="392.2" y2="313.7" stroke="#c02828" stroke-width="1.6"/>
<line x1="360.4" y1="331.1" x2="392.2" y2="331.1" stroke="#5e1414" stroke-width="1.6"/>
<line x1="360.4" y1="348.2" x2="392.2" y2="348.2" stroke="#333" stroke-width="1.6" stroke-dasharray="3.8 4.2"/>
<line x1="360.4" y1="364.8" x2="392.2" y2="364.8" stroke="#2020ff" stroke-width="1.6" stroke-dasharray="7 4"/>
<text x="395" y="300.4" font-size="13.5" text-anchor="start" textLength="45" lengthAdjust="spacingAndGlyphs" fill="#1a1a1a" >Ge1SAl</text>
<text x="395" y="317.8" font-size="13.5" text-anchor="start" textLength="45" lengthAdjust="spacingAndGlyphs" fill="#1a1a1a" >Ge4SAl</text>
<text x="395" y="334.4" font-size="13.5" text-anchor="start" textLength="45" lengthAdjust="spacingAndGlyphs" fill="#1a1a1a" >Ge5SAl</text>
<text x="395" y="351.8" font-size="13.5" text-anchor="start" textLength="45" lengthAdjust="spacingAndGlyphs" fill="#1a1a1a" >Ge0SAl</text>
<text x="395" y="369" font-size="13.5" text-anchor="start" fill="#1a1a1a" >Ge4</text>
<text x="292.2" y="292.4" font-size="13.5" text-anchor="start" textLength="8.5" lengthAdjust="spacingAndGlyphs" fill="#1a1a1a" >Δ</text>
<text x="300.7" y="295.7" font-size="8.5" text-anchor="start" textLength="13.8" lengthAdjust="spacingAndGlyphs" fill="#1a1a1a" >max</text>
<text x="315.1" y="292.4" font-size="13.7" text-anchor="start" textLength="41.4" lengthAdjust="spacingAndGlyphs" fill="#1a1a1a" >~13 cm</text>
<text x="357.9" y="286.5" font-size="8.5" text-anchor="start" textLength="5" lengthAdjust="spacingAndGlyphs" fill="#1a1a1a" >-1</text>
<line x1="339.6" y1="301.6" x2="339.6" y2="503" stroke="#ff2222" stroke-width="1.5" stroke-dasharray="3.3 4.7"/>
<line x1="347.1" y1="303.6" x2="347.1" y2="503" stroke="#222" stroke-width="1.5" stroke-dasharray="3.3 4.7"/>
<line x1="348" y1="299.3" x2="342.2" y2="299.3" stroke="#111" stroke-width="1.7"/>
<path d="M336.2,299.3 L343.2,296.1 L342.0,299.3 L343.2,302.5 Z" fill="#111"/>
<path d="M248.5,321.3 L250.0,322.0 L253.0,322.5 L255.0,325.0 L258.0,330.0 L260.5,334.0 L263.0,337.5 L265.5,341.0 L268.0,343.8 L271.0,346.0 L274.3,347.5 L277.0,347.5 L280.5,348.0 L283.0,349.0 L285.5,350.0 L288.0,350.5 L290.0,350.5 L292.5,351.3 L295.0,349.0 L298.0,346.3 L300.5,343.5 L303.0,341.3 L305.5,338.0 L308.0,335.0 L311.5,331.0 L315.5,327.5 L319.0,323.0 L323.0,318.8 L327.0,314.0 L330.5,310.0 L333.0,307.0 L335.5,304.5 L338.3,303.8 L341.0,304.5 L345.2,308.2 L348.0,313.0 L351.0,320.0 L354.5,329.0 L357.5,337.5 L360.8,345.0 L364.0,351.0 L367.0,354.5 L372.0,356.0 L379.5,357.0 L385.3,358.0 L392.0,360.0 L396.3,360.7 L400.0,362.5 L404.6,366.2 L410.0,372.5 L415.7,380.0 L421.0,386.0 L426.7,391.1 L431.0,395.0 L435.0,398.0 L438.0,400.0 L441.9,401.6" fill="none" stroke="#ff2222" stroke-width="1.6" stroke-linejoin="round" stroke-linecap="butt"/>
<path d="M248.5,356.3 L250.5,359.0 L253.0,361.3 L255.0,365.0 L257.0,369.5 L260.5,375.0 L263.0,379.0 L265.5,382.5 L269.0,386.0 L273.0,388.8 L275.5,389.3 L278.0,389.5 L280.5,388.5 L283.0,387.5 L286.0,386.0 L290.5,384.5 L294.0,385.0 L298.0,385.0 L300.5,385.5 L303.0,385.5 L306.5,383.5 L310.5,381.3 L315.0,378.5 L320.5,375.0 L325.0,370.5 L330.5,365.0 L334.0,361.0 L338.0,358.8 L341.0,357.3 L344.5,358.5 L348.0,362.0 L351.0,367.5 L354.5,375.0 L357.5,381.5 L360.8,387.5 L364.0,393.0 L367.0,397.5 L370.5,401.0 L374.5,403.5 L380.0,405.5 L387.0,407.5 L393.0,409.0 L399.1,411.0 L406.0,414.5 L412.9,418.0 L420.0,421.5 L426.7,424.9 L431.0,426.3 L435.0,426.8 L441.9,426.2" fill="none" stroke="#b01818" stroke-width="1.6" stroke-linejoin="round" stroke-linecap="butt"/>
<path d="M248.5,424.4 L251.1,428.8 L252.9,434.9 L255.5,436.7 L258.2,440.2 L261.7,444.6 L266.0,446.7 L269.9,447.5 L273.0,447.0 L277.8,445.3 L280.1,445.4 L282.7,442.5 L286.2,441.9 L289.7,440.2 L293.2,441.9 L297.6,442.5 L301.1,443.2 L303.8,444.2 L306.4,441.9 L310.8,440.7 L315.3,438.2 L319.2,435.5 L325.8,430.3 L332.4,422.4 L337.6,414.5 L342.9,409.5 L348.2,413.2 L352.1,421.1 L357.4,435.5 L362.6,450.0 L367.9,457.9 L371.4,459.0 L378.0,460.6 L385.3,462.2 L392.0,464.0 L399.1,466.3 L406.0,468.8 L412.9,471.3 L420.0,473.0 L426.7,474.1 L434.0,474.3 L441.9,474.1" fill="none" stroke="#5e1414" stroke-width="1.6" stroke-linejoin="round" stroke-linecap="butt"/>
<path d="M248.5,436.7 L249.2,439.6 L249.9,442.3 L250.6,444.7 L251.3,446.9 L252.0,448.9 L252.7,450.8 L253.4,452.6 L254.1,454.1 L254.8,455.5 L255.5,456.7 L256.2,457.8 L256.9,458.8 L257.6,459.7 L258.3,460.5 L259.0,461.3 L259.7,462.0 L260.4,462.8 L261.1,463.4 L261.8,464.1 L262.5,464.6 L263.2,465.1 L263.9,465.4 L264.6,465.7 L265.3,466.0 L266.0,466.2 L266.7,466.4 L267.4,466.6 L268.1,466.8 L268.8,466.9 L269.5,467.0 L270.2,467.0 L270.9,467.0 L271.6,466.9 L272.3,466.8 L273.0,466.6 L273.7,466.4 L274.4,466.2 L275.1,466.0 L275.8,465.8 L276.5,465.6 L277.2,465.4 L277.9,465.2 L278.6,465.0 L279.3,464.8 L280.0,464.6 L280.7,464.3 L281.4,464.1 L282.1,463.9 L282.8,463.7 L283.5,463.5 L284.2,463.3 L284.9,463.2 L285.6,463.0 L286.3,462.8 L287.0,462.6 L287.7,462.4 L288.4,462.3 L289.1,462.2 L289.8,462.1 L290.5,462.1 L291.2,462.1 L291.9,462.2 L292.6,462.2 L293.3,462.3 L294.0,462.4 L294.7,462.5 L295.4,462.6 L296.1,462.8 L296.9,462.9 L297.6,463.0 L298.3,463.1 L299.0,463.2 L299.7,463.4 L300.4,463.6 L301.1,463.7 L301.8,463.9 L302.5,464.0 L303.2,464.1 L303.9,464.2 L304.6,464.2 L305.3,464.2 L306.0,464.2 L306.7,464.1 L307.4,464.1 L308.1,464.0 L308.8,463.9 L309.5,463.8 L310.2,463.7 L310.9,463.6 L311.6,463.5 L312.3,463.4 L313.0,463.3 L313.7,463.1 L314.4,462.9 L315.1,462.7 L315.8,462.5 L316.5,462.2 L317.2,461.9 L317.9,461.6 L318.6,461.3 L319.3,460.8 L320.0,460.2 L320.7,459.5 L321.4,458.7 L322.1,457.7 L322.8,456.8 L323.5,455.7 L324.2,454.7 L324.9,453.8 L325.6,452.9 L326.3,452.0 L327.0,451.2 L327.7,450.4 L328.4,449.5 L329.1,448.7 L329.8,447.9 L330.5,447.1 L331.2,446.3 L331.9,445.5 L332.6,444.7 L333.3,443.9 L334.0,443.1 L334.7,442.3 L335.4,441.4 L336.1,440.6 L336.8,439.8 L337.5,439.0 L338.2,438.3 L338.9,437.5 L339.6,436.8 L340.3,436.2 L341.0,435.6 L341.7,435.1 L342.4,434.5 L343.1,434.0 L343.8,433.6 L344.5,433.1 L345.2,432.7 L345.9,432.3 L346.6,431.8 L347.3,431.6 L348.0,431.7 L348.7,432.1 L349.4,432.8 L350.1,433.6 L350.8,434.5 L351.5,435.8 L352.2,437.6 L352.9,439.8 L353.6,442.0 L354.3,444.1 L355.0,445.9 L355.7,447.7 L356.4,449.4 L357.1,451.1 L357.8,452.7 L358.5,454.4 L359.2,456.0 L359.9,457.7 L360.6,459.3 L361.3,460.9 L362.0,462.5 L362.7,464.1 L363.4,465.7 L364.1,467.3 L364.8,468.8 L365.5,470.4 L366.2,471.9 L366.9,473.3 L367.6,474.5 L368.3,475.6 L369.0,476.6 L369.7,477.6 L370.4,478.4 L371.1,479.2 L371.8,480.0 L372.5,480.7 L373.2,481.3 L373.9,481.9 L374.6,482.4 L375.3,482.8 L376.0,483.2 L376.7,483.6 L377.4,483.9 L378.1,484.2 L378.8,484.4 L379.5,484.7 L380.2,484.9 L380.9,485.1 L381.6,485.4 L382.3,485.6 L383.0,485.7 L383.7,485.9 L384.4,486.0 L385.1,486.2 L385.8,486.3 L386.5,486.4 L387.2,486.5 L387.9,486.6 L388.6,486.7 L389.3,486.8 L390.0,486.9 L390.7,487.0 L391.4,487.1 L392.1,487.2 L392.8,487.2 L393.5,487.3 L394.3,487.4 L395.0,487.5 L395.7,487.6 L396.4,487.7 L397.1,487.7 L397.8,487.8 L398.5,487.9 L399.2,488.0 L399.9,488.1 L400.6,488.1 L401.3,488.2 L402.0,488.3 L402.7,488.4 L403.4,488.4 L404.1,488.5 L404.8,488.6 L405.5,488.7 L406.2,488.7 L406.9,488.8 L407.6,488.9 L408.3,489.0 L409.0,489.1 L409.7,489.1 L410.4,489.2 L411.1,489.3 L411.8,489.4 L412.5,489.4 L413.2,489.5 L413.9,489.6 L414.6,489.6 L415.3,489.7 L416.0,489.8 L416.7,489.8 L417.4,489.9 L418.1,490.0 L418.8,490.0 L419.5,490.1 L420.2,490.1 L420.9,490.2 L421.6,490.2 L422.3,490.3 L423.0,490.3 L423.7,490.4 L424.4,490.4 L425.1,490.5 L425.8,490.5 L426.5,490.6 L427.2,490.6 L427.9,490.7 L428.6,490.7 L429.3,490.8 L430.0,490.8 L430.7,490.8 L431.4,490.9 L432.1,490.9 L432.8,490.9 L433.5,491.0 L434.2,491.0 L434.9,491.0 L435.6,491.1 L436.3,491.1 L437.0,491.1 L437.7,491.2 L438.4,491.2 L439.1,491.2 L439.8,491.2 L440.5,491.3 L441.2,491.3 L441.9,491.3" fill="none" stroke="#2020ff" stroke-width="2.0" stroke-dasharray="5 4" stroke-linejoin="round" stroke-linecap="butt"/>
<path d="M248.5,463.9 L249.2,465.6 L249.9,467.3 L250.6,468.9 L251.3,470.4 L252.0,471.8 L252.7,473.2 L253.4,474.5 L254.1,475.8 L254.8,477.0 L255.5,477.9 L256.2,478.7 L256.9,479.5 L257.6,480.2 L258.3,480.8 L259.0,481.5 L259.7,482.0 L260.4,482.6 L261.1,483.1 L261.8,483.6 L262.5,484.0 L263.2,484.4 L263.9,484.9 L264.6,485.3 L265.3,485.6 L266.0,486.0 L266.7,486.3 L267.4,486.7 L268.1,486.9 L268.8,487.2 L269.5,487.5 L270.2,487.7 L270.9,488.0 L271.6,488.2 L272.3,488.4 L273.0,488.7 L273.7,488.9 L274.4,489.0 L275.1,489.2 L275.8,489.3 L276.5,489.3 L277.2,489.3 L277.9,489.3 L278.6,489.3 L279.3,489.3 L280.0,489.3 L280.7,489.3 L281.4,489.3 L282.1,489.3 L282.8,489.3 L283.5,489.2 L284.2,489.0 L284.9,488.6 L285.6,488.2 L286.3,487.8 L287.0,487.4 L287.7,487.1 L288.4,486.8 L289.1,486.7 L289.8,486.5 L290.5,486.4 L291.2,486.3 L291.9,486.1 L292.6,486.0 L293.3,486.0 L294.0,485.9 L294.7,485.8 L295.4,485.8 L296.1,485.8 L296.9,485.9 L297.6,486.1 L298.3,486.3 L299.0,486.5 L299.7,486.8 L300.4,487.3 L301.1,487.9 L301.8,488.6 L302.5,489.3 L303.2,490.0 L303.9,490.6 L304.6,491.1 L305.3,491.4 L306.0,491.7 L306.7,491.9 L307.4,492.2 L308.1,492.4 L308.8,492.6 L309.5,492.8 L310.2,492.9 L310.9,493.1 L311.6,493.2 L312.3,493.3 L313.0,493.4 L313.7,493.5 L314.4,493.6 L315.1,493.6 L315.8,493.7 L316.5,493.8 L317.2,493.8 L317.9,493.9 L318.6,493.9 L319.3,493.9 L320.0,494.0 L320.7,494.0 L321.4,494.0 L322.1,494.0 L322.8,494.1 L323.5,494.1 L324.2,494.1 L324.9,494.1 L325.6,494.1 L326.3,494.1 L327.0,494.1 L327.7,494.1 L328.4,494.1 L329.1,494.1 L329.8,494.1 L330.5,494.1 L331.2,494.1 L331.9,494.1 L332.6,494.1 L333.3,494.1 L334.0,494.1 L334.7,494.1 L335.4,494.1 L336.1,494.1 L336.8,494.1 L337.5,494.1 L338.2,494.1 L338.9,494.1 L339.6,494.1 L340.3,494.1 L341.0,494.1 L341.7,494.1 L342.4,494.1 L343.1,494.1 L343.8,494.1 L344.5,494.1 L345.2,494.1 L345.9,494.1 L346.6,494.1 L347.3,494.1 L348.0,494.1 L348.7,494.1 L349.4,494.1 L350.1,494.1 L350.8,494.1 L351.5,494.1 L352.2,494.1 L352.9,494.1 L353.6,494.1 L354.3,494.1 L355.0,494.1 L355.7,494.1 L356.4,494.1 L357.1,494.1 L357.8,494.1 L358.5,494.1 L359.2,494.1 L359.9,494.1 L360.6,494.1 L361.3,494.1 L362.0,494.1 L362.7,494.1 L363.4,494.1 L364.1,494.1 L364.8,494.1 L365.5,494.1 L366.2,494.1 L366.9,494.1 L367.6,494.1 L368.3,494.1 L369.0,494.1 L369.7,494.1 L370.4,494.1 L371.1,494.1 L371.8,494.1 L372.5,494.1 L373.2,494.1 L373.9,494.1 L374.6,494.1 L375.3,494.1 L376.0,494.1 L376.7,494.1 L377.4,494.1 L378.1,494.1 L378.8,494.1 L379.5,494.1 L380.2,494.1 L380.9,494.1 L381.6,494.1 L382.3,494.1 L383.0,494.1 L383.7,494.1 L384.4,494.1 L385.1,494.1 L385.8,494.1 L386.5,494.1 L387.2,494.1 L387.9,494.1 L388.6,494.1 L389.3,494.1 L390.0,494.1 L390.7,494.1 L391.4,494.1 L392.1,494.1 L392.8,494.1 L393.5,494.1 L394.3,494.1 L395.0,494.1 L395.7,494.1 L396.4,494.1 L397.1,494.1 L397.8,494.1 L398.5,494.1 L399.2,494.1 L399.9,494.1 L400.6,494.1 L401.3,494.1 L402.0,494.1 L402.7,494.1 L403.4,494.1 L404.1,494.1 L404.8,494.1 L405.5,494.1 L406.2,494.1 L406.9,494.1 L407.6,494.1 L408.3,494.1 L409.0,494.1 L409.7,494.1 L410.4,494.1 L411.1,494.1 L411.8,494.1 L412.5,494.1 L413.2,494.1 L413.9,494.1 L414.6,494.1 L415.3,494.1 L416.0,494.1 L416.7,494.1 L417.4,494.1 L418.1,494.1 L418.8,494.1 L419.5,494.1 L420.2,494.1 L420.9,494.1 L421.6,494.1 L422.3,494.1 L423.0,494.1 L423.7,494.1 L424.4,494.1 L425.1,494.1 L425.8,494.1 L426.5,494.1 L427.2,494.1 L427.9,494.1 L428.6,494.1 L429.3,494.1 L430.0,494.1 L430.7,494.1 L431.4,494.1 L432.1,494.1 L432.8,494.1 L433.5,494.1 L434.2,494.1 L434.9,494.1 L435.6,494.1 L436.3,494.1 L437.0,494.1 L437.7,494.1 L438.4,494.1 L439.1,494.1 L439.8,494.1 L440.5,494.1 L441.2,494.1 L441.9,494.1" fill="none" stroke="#333" stroke-width="1.5" stroke-dasharray="3.5 3.7" stroke-linejoin="round" stroke-linecap="butt"/>
<circle cx="411.5" cy="380" r="5.6" fill="#4a8fd8"/>
<circle cx="424.8" cy="380" r="5.6" fill="#4a8fd8"/>
<circle cx="437.2" cy="380" r="5.6" fill="#4a8fd8"/>
<circle cx="411.5" cy="380.6" r="4.6" fill="#ef7e32"/>
<circle cx="424.8" cy="380.6" r="4.6" fill="#ef7e32"/>
<circle cx="437.2" cy="380.6" r="4.6" fill="#ef7e32"/>
<ellipse cx="411.5" cy="383.8" rx="2.4" ry="1.5" fill="#fbb90d"/>
<ellipse cx="424.8" cy="383.8" rx="2.4" ry="1.5" fill="#fbb90d"/>
<ellipse cx="437.2" cy="383.8" rx="2.4" ry="1.5" fill="#fbb90d"/>
<circle cx="384.4" cy="408.3" r="5.5" fill="#4a8fd8"/>
<circle cx="396.9" cy="408.3" r="5.5" fill="#4a8fd8"/>
<circle cx="409.6" cy="408.3" r="5.5" fill="#4a8fd8"/>
<circle cx="384.4" cy="408.90000000000003" r="4.5" fill="#ef7e32"/>
<circle cx="396.9" cy="408.90000000000003" r="4.5" fill="#ef7e32"/>
<circle cx="409.6" cy="408.90000000000003" r="4.5" fill="#ef7e32"/>
<circle cx="384.4" cy="410.3" r="3.5" fill="#fbb90d" stroke="#e08a20" stroke-width="0.5"/>
<circle cx="396.9" cy="410.3" r="3.5" fill="#fbb90d" stroke="#e08a20" stroke-width="0.5"/>
<circle cx="409.6" cy="410.3" r="3.5" fill="#fbb90d" stroke="#e08a20" stroke-width="0.5"/>
<circle cx="379.2" cy="458.9" r="5.6" fill="#4a8fd8"/>
<circle cx="390.2" cy="458.9" r="5.6" fill="#4a8fd8"/>
<circle cx="401.8" cy="458.9" r="5.6" fill="#4a8fd8"/>
<circle cx="379.2" cy="459.5" r="4.6" fill="#ef7e32"/>
<circle cx="390.2" cy="459.5" r="4.6" fill="#ef7e32"/>
<circle cx="401.8" cy="459.5" r="4.6" fill="#ef7e32"/>
<circle cx="379.2" cy="460.4" r="4.2" fill="#fbb90d" stroke="#e08a20" stroke-width="0.5"/>
<circle cx="390.2" cy="460.4" r="4.2" fill="#fbb90d" stroke="#e08a20" stroke-width="0.5"/>
<circle cx="401.8" cy="460.4" r="4.2" fill="#fbb90d" stroke="#e08a20" stroke-width="0.5"/>
<circle cx="397.8" cy="484.5" r="5.5" fill="#fbb90d" stroke="#c9a040" stroke-width="0.6"/>
<circle cx="409.8" cy="484.5" r="5.5" fill="#fbb90d" stroke="#c9a040" stroke-width="0.6"/>
<circle cx="422.4" cy="484.5" r="5.5" fill="#fbb90d" stroke="#c9a040" stroke-width="0.6"/>
<ellipse cx="366.5" cy="496.7" rx="4.1" ry="5.5" fill="#ef7e32" stroke="#d9a070" stroke-width="0.6"/>
<ellipse cx="377" cy="496.7" rx="4.1" ry="5.5" fill="#ef7e32" stroke="#d9a070" stroke-width="0.6"/>
<ellipse cx="387.2" cy="496.7" rx="4.1" ry="5.5" fill="#ef7e32" stroke="#d9a070" stroke-width="0.6"/>
</g>
</svg>
</body></html>
